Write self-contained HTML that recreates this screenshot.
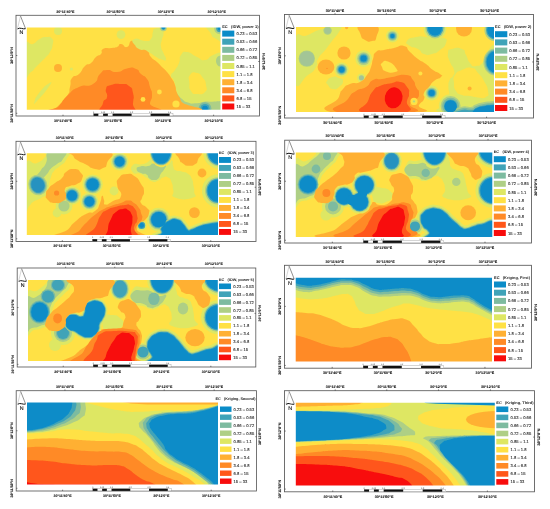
<!DOCTYPE html><html><head><meta charset="utf-8"><title>EC interpolation maps</title><style>html,body{margin:0;padding:0;background:#fff}svg{display:block}text{text-rendering:geometricPrecision}.tk{font:bold 3.6px "Liberation Sans",sans-serif;fill:#111;stroke:#111;stroke-width:.08px}</style></head><body><svg width="550" height="509" viewBox="0 0 550 509"><defs><filter id="bl" x="-5%" y="-5%" width="110%" height="110%"><feGaussianBlur stdDeviation="0.45"/></filter></defs><rect width="550" height="509" fill="#fff"/><clipPath id="cm0"><rect x="26.8" y="27.5" width="193.7" height="82.3"/></clipPath><g clip-path="url(#cm0)"><g filter="url(#bl)"><rect x="22.8" y="23.5" width="201.7" height="90.3" fill="#FFE144"/><path d="M25.0 46.0C27.7 36.0 28.3 46.2 33.0 44.0C37.7 41.8 34.7 41.7 39.0 39.4C43.3 37.1 41.7 37.3 46.0 37.0C50.3 36.7 49.8 35.9 52.0 38.6C54.2 41.3 53.3 40.5 52.6 45.0C51.9 49.5 52.2 48.0 50.0 52.0C47.8 56.0 49.0 53.7 46.0 57.0C43.0 60.3 44.3 58.7 41.0 62.0C37.7 65.3 39.3 63.7 36.0 67.0C32.7 70.3 34.7 69.7 31.0 72.0C27.3 74.3 27.0 82.7 25.0 74.0C23.0 65.3 22.3 56.0 25.0 46.0Z" fill="#DEE763"/><ellipse cx="58.0" cy="31.0" rx="4.0" ry="4.0" fill="#DEE763"/><ellipse cx="121.0" cy="34.6" rx="4.4" ry="4.4" fill="#DEE763"/><path d="M48.0 84.0C51.5 81.7 53.1 80.3 49.4 86.0C45.7 91.7 41.9 95.9 37.0 101.0C32.1 106.1 33.9 104.1 34.6 101.4C35.3 98.7 34.5 98.8 39.0 93.0C43.5 87.2 44.5 86.3 48.0 84.0Z" fill="#DEE763"/><ellipse cx="71.4" cy="69.0" rx="1.6" ry="1.6" fill="#DEE763"/><path d="M134.1 39.2C137.9 37.1 139.8 41.1 145.5 40.9C151.2 40.6 148.8 41.4 151.2 38.4C153.7 35.4 151.5 35.2 152.9 31.9C154.2 28.6 152.3 29.6 155.3 28.6C158.3 27.7 159.1 27.3 161.8 29.0C164.6 30.6 163.5 29.8 163.5 33.5C163.5 37.2 162.7 35.7 161.8 40.1C161.0 44.4 160.5 42.2 161.0 46.6C161.6 50.9 161.8 48.8 163.5 53.1C165.1 57.5 166.5 57.5 165.9 59.6C165.4 61.8 165.4 60.7 161.8 59.6C158.3 58.5 160.2 59.1 155.3 56.4C150.4 53.6 154.2 54.5 147.2 51.5C140.1 48.5 138.5 51.5 134.1 47.4C129.8 43.3 130.3 41.4 134.1 39.2Z" fill="#DEE763"/><path d="M181.0 55.0C183.7 51.3 181.7 51.3 187.0 52.0C192.3 52.7 191.0 54.3 197.0 57.0C203.0 59.7 199.7 60.7 205.0 60.0C210.3 59.3 207.0 57.7 213.0 55.0C219.0 52.3 217.7 53.0 223.0 52.0C228.3 51.0 227.0 31.7 229.0 52.0C231.0 72.3 244.3 92.7 229.0 113.0C213.7 133.3 199.0 117.0 183.0 113.0C167.0 109.0 183.0 107.7 181.0 101.0C179.0 94.3 179.3 99.7 177.0 93.0C174.7 86.3 176.0 86.7 174.0 81.0C172.0 75.3 170.7 79.7 171.0 76.0C171.3 72.3 172.3 74.3 175.0 70.0C177.7 65.7 177.0 68.0 179.0 63.0C181.0 58.0 178.3 58.7 181.0 55.0Z" fill="#DEE763"/><path d="M207.5 23.7C202.6 27.0 208.1 28.6 210.8 33.5C213.5 38.4 210.8 36.0 215.7 38.4C220.6 40.9 222.2 45.8 225.5 40.9C228.7 36.0 231.4 29.4 225.5 23.7C219.5 18.0 212.4 20.5 207.5 23.7Z" fill="#DEE763"/><ellipse cx="219.8" cy="28.6" rx="7.6" ry="7.6" fill="#DEE763"/><path d="M190.0 75.0C192.5 71.7 192.7 72.0 197.0 73.0C201.3 74.0 200.0 74.0 203.0 78.0C206.0 82.0 205.3 80.3 206.0 85.0C206.7 89.7 208.0 89.0 205.0 92.0C202.0 95.0 201.7 94.3 197.0 94.0C192.3 93.7 193.5 94.7 191.0 91.0C188.5 87.3 189.7 88.3 189.4 83.0C189.1 77.7 187.5 78.3 190.0 75.0Z" fill="#FFE144"/><ellipse cx="220.4" cy="61.0" rx="4.4" ry="5.6" fill="#AECF85"/><path d="M175.7 92.3C176.2 90.5 177.3 95.0 181.4 98.5C185.5 101.9 183.0 100.9 187.9 102.5C192.8 104.2 190.7 103.6 196.1 103.3C201.5 103.1 198.8 102.3 204.3 101.7C209.7 101.2 205.9 102.0 212.4 101.7C218.9 101.4 217.8 101.1 223.8 100.7C229.8 100.4 228.2 96.0 230.4 100.7C232.5 105.5 246.1 110.3 230.4 115.1C214.6 119.9 199.9 118.9 183.0 115.1C166.2 111.3 182.2 111.3 179.8 103.7C177.3 96.1 175.2 94.0 175.7 92.3Z" fill="#AECF85"/><ellipse cx="205.0" cy="108.6" rx="6.4" ry="6.4" fill="#7DBBA0"/><ellipse cx="205.0" cy="108.6" rx="4.6" ry="4.6" fill="#3FA3B8"/><ellipse cx="163.4" cy="27.6" rx="3.6" ry="3.6" fill="#AECF85"/><ellipse cx="163.4" cy="27.6" rx="2.4" ry="2.4" fill="#3FA3B8"/><ellipse cx="219.8" cy="28.6" rx="5.6" ry="5.6" fill="#AECF85"/><ellipse cx="219.8" cy="28.6" rx="3.6" ry="3.6" fill="#3FA3B8"/><ellipse cx="58.0" cy="68.0" rx="4.0" ry="4.0" fill="#FFB033"/><path d="M50.0 113.0C8.0 111.0 51.3 112.7 57.0 107.0C62.7 101.3 62.7 102.7 67.0 96.0C71.3 89.3 68.3 93.0 70.0 87.0C71.7 81.0 69.0 82.3 72.0 78.0C75.0 73.7 74.7 78.0 79.0 74.0C83.3 70.0 81.0 69.7 85.0 66.0C89.0 62.3 87.3 66.0 91.0 63.0C94.7 60.0 92.7 60.0 96.0 57.0C99.3 54.0 98.7 56.7 101.0 54.0C103.3 51.3 99.7 51.0 103.0 49.0C106.3 47.0 106.3 48.7 111.0 48.0C115.7 47.3 113.7 48.3 117.0 47.0C120.3 45.7 117.7 44.0 121.0 44.0C124.3 44.0 123.7 48.0 127.0 47.0C130.3 46.0 128.7 42.0 131.0 41.0C133.3 40.0 131.3 41.3 134.0 44.0C136.7 46.7 134.7 46.7 139.0 49.0C143.3 51.3 143.0 48.3 147.0 51.0C151.0 53.7 147.7 53.3 151.0 57.0C154.3 60.7 153.3 58.7 157.0 62.0C160.7 65.3 158.7 63.7 162.0 67.0C165.3 70.3 163.7 68.0 167.0 72.0C170.3 76.0 169.3 74.7 172.0 79.0C174.7 83.3 173.3 80.3 175.0 85.0C176.7 89.7 175.0 87.7 177.0 93.0C179.0 98.3 179.0 94.3 181.0 101.0C183.0 107.7 226.7 109.0 183.0 113.0C139.3 117.0 92.0 115.0 50.0 113.0Z" fill="#FFB033"/><path d="M53.0 113.0C23.7 110.7 54.0 112.0 59.0 106.0C64.0 100.0 61.3 101.3 68.0 95.0C74.7 88.7 70.7 90.7 79.0 87.0C87.3 83.3 86.0 88.3 93.0 84.0C100.0 79.7 95.3 78.7 100.0 74.0C104.7 69.3 101.3 70.7 107.0 70.0C112.7 69.3 110.3 72.5 117.0 72.0C123.7 71.5 120.7 69.4 127.0 68.4C133.3 67.4 131.3 67.1 136.0 69.0C140.7 70.9 137.3 70.7 141.0 74.0C144.7 77.3 144.0 74.7 147.0 79.0C150.0 83.3 148.3 81.7 150.0 87.0C151.7 92.3 152.0 89.7 152.0 95.0C152.0 100.3 151.7 97.0 150.0 103.0C148.3 109.0 179.3 109.7 147.0 113.0C114.7 116.3 82.3 115.3 53.0 113.0Z" fill="#FF8A26"/><path d="M104.0 113.0C94.7 109.7 102.0 108.3 103.0 103.0C104.0 97.7 106.0 101.7 107.0 97.0C108.0 92.3 104.7 93.0 106.0 89.0C107.3 85.0 106.0 86.7 111.0 85.0C116.0 83.3 115.0 83.7 121.0 84.0C127.0 84.3 125.0 83.0 129.0 86.0C133.0 89.0 131.7 87.3 133.0 93.0C134.3 98.7 133.7 96.3 133.0 103.0C132.3 109.7 140.7 109.7 131.0 113.0C121.3 116.3 113.3 116.3 104.0 113.0Z" fill="#FF571A"/><ellipse cx="159.4" cy="92.0" rx="2.4" ry="2.4" fill="#FFE144"/><ellipse cx="143.0" cy="99.4" rx="2.4" ry="2.4" fill="#FFE144"/><ellipse cx="176.0" cy="104.0" rx="3.6" ry="3.6" fill="#FFE144"/><ellipse cx="205.0" cy="108.6" rx="2.8" ry="2.8" fill="#0A8CC8"/><ellipse cx="163.4" cy="27.6" rx="1.6" ry="1.6" fill="#0A8CC8"/><ellipse cx="219.8" cy="28.6" rx="2.0" ry="2.0" fill="#0A8CC8"/></g></g><g transform="translate(16.00 15.30) scale(1.0000 1.0000)"><rect x="0" y="0" width="243.5" height="100.7" fill="none" stroke="#5a5a5a" stroke-width="0.85"/><path d="M49.4 0V-1.3" stroke="#333" stroke-width="0.6"/><text class="tk" x="49.4" y="-2.7" text-anchor="middle">30°11'40"E</text><path d="M99.6 0V-1.3" stroke="#333" stroke-width="0.6"/><text class="tk" x="99.6" y="-2.7" text-anchor="middle">30°11'50"E</text><path d="M150.0 0V-1.3" stroke="#333" stroke-width="0.6"/><text class="tk" x="150.0" y="-2.7" text-anchor="middle">30°12'0"E</text><path d="M200.6 0V-1.3" stroke="#333" stroke-width="0.6"/><text class="tk" x="200.6" y="-2.7" text-anchor="middle">30°12'10"E</text><path d="M47.0 100.7V99.4" stroke="#333" stroke-width="0.6"/><text class="tk" x="47.0" y="106.5" text-anchor="middle">30°11'40"E</text><path d="M97.0 100.7V99.4" stroke="#333" stroke-width="0.6"/><text class="tk" x="97.0" y="106.5" text-anchor="middle">30°11'50"E</text><path d="M147.0 100.7V99.4" stroke="#333" stroke-width="0.6"/><text class="tk" x="147.0" y="106.5" text-anchor="middle">30°12'0"E</text><path d="M197.6 100.7V99.4" stroke="#333" stroke-width="0.6"/><text class="tk" x="197.6" y="106.5" text-anchor="middle">30°12'10"E</text><path d="M0 40.2H1.3" stroke="#333" stroke-width="0.6"/><text class="tk" transform="translate(-3.5 40.2) rotate(-90)" text-anchor="middle">30°12'0"N</text><path d="M0 98.0H1.3" stroke="#333" stroke-width="0.6"/><text class="tk" transform="translate(-3.5 98.0) rotate(-90)" text-anchor="middle">30°11'50"N</text><path d="M243.5 46.2H242.2" stroke="#333" stroke-width="0.6"/><text class="tk" transform="translate(248.5 46.2) rotate(-90)" text-anchor="middle">30°12'0"N</text><path d="M4.5 0.7L9.5 13.2" stroke="#222" stroke-width="0.5" fill="none"/><path d="M4.5 0.7L1.5 13.2" stroke="#999" stroke-width="0.4" fill="none"/><path d="M1.5 13.6Q3.5 12.4 5.5 13.1T9.5 13.4" stroke="#111" stroke-width="1" fill="none"/><text x="5.5" y="18.9" text-anchor="middle" style="font:5.4px 'Liberation Sans',sans-serif;fill:#111;stroke:#111;stroke-width:.12px">N</text><rect x="77.6" y="98.4" width="79.4" height="2.2" fill="#fff" stroke="#777" stroke-width="0.3"/><rect x="77.60" y="98.4" width="4.75" height="2.2" fill="#111"/><rect x="87.10" y="98.4" width="4.75" height="2.2" fill="#111"/><rect x="96.60" y="98.4" width="19.00" height="2.2" fill="#111"/><rect x="134.60" y="98.4" width="19.00" height="2.2" fill="#111"/><text x="77.6" y="97.6" text-anchor="middle" style="font:2.2px 'Liberation Sans',sans-serif;fill:#444">0</text><text x="87.1" y="97.6" text-anchor="middle" style="font:2.2px 'Liberation Sans',sans-serif;fill:#444">0.05</text><text x="96.6" y="97.6" text-anchor="middle" style="font:2.2px 'Liberation Sans',sans-serif;fill:#444">0.1</text><text x="115.6" y="97.6" text-anchor="middle" style="font:2.2px 'Liberation Sans',sans-serif;fill:#444">0.2</text><text x="134.6" y="97.6" text-anchor="middle" style="font:2.2px 'Liberation Sans',sans-serif;fill:#444">0.3</text><text x="153.6" y="97.6" text-anchor="middle" style="font:2.2px 'Liberation Sans',sans-serif;fill:#444">0.4</text></g><text x="222.2" y="28.0" textLength="36.4" lengthAdjust="spacingAndGlyphs" style="font:bold 3.90px 'Liberation Sans',sans-serif;fill:#222" xml:space="preserve">EC   (IDW, power 1)</text><rect x="222.2" y="30.6" width="12.1" height="6.0" fill="#0A8CC8"/><text x="236.5" y="35.1" style="font:4.15px 'Liberation Sans',sans-serif;fill:#2a2a2a;stroke:#2a2a2a;stroke-width:.1px">0.23 – 0.53</text><rect x="222.2" y="38.7" width="12.1" height="6.0" fill="#3FA3B8"/><text x="236.5" y="43.2" style="font:4.15px 'Liberation Sans',sans-serif;fill:#2a2a2a;stroke:#2a2a2a;stroke-width:.1px">0.53 – 0.66</text><rect x="222.2" y="46.8" width="12.1" height="6.0" fill="#7DBBA0"/><text x="236.5" y="51.3" style="font:4.15px 'Liberation Sans',sans-serif;fill:#2a2a2a;stroke:#2a2a2a;stroke-width:.1px">0.66 – 0.72</text><rect x="222.2" y="54.9" width="12.1" height="6.0" fill="#AECF85"/><text x="236.5" y="59.4" style="font:4.15px 'Liberation Sans',sans-serif;fill:#2a2a2a;stroke:#2a2a2a;stroke-width:.1px">0.72 – 0.85</text><rect x="222.2" y="63.0" width="12.1" height="6.0" fill="#DEE763"/><text x="236.5" y="67.5" style="font:4.15px 'Liberation Sans',sans-serif;fill:#2a2a2a;stroke:#2a2a2a;stroke-width:.1px">0.85 – 1.1</text><rect x="222.2" y="71.1" width="12.1" height="6.0" fill="#FFE144"/><text x="236.5" y="75.6" style="font:4.15px 'Liberation Sans',sans-serif;fill:#2a2a2a;stroke:#2a2a2a;stroke-width:.1px">1.1 – 1.8</text><rect x="222.2" y="79.2" width="12.1" height="6.0" fill="#FFB033"/><text x="236.5" y="83.7" style="font:4.15px 'Liberation Sans',sans-serif;fill:#2a2a2a;stroke:#2a2a2a;stroke-width:.1px">1.8 – 3.4</text><rect x="222.2" y="87.3" width="12.1" height="6.0" fill="#FF8A26"/><text x="236.5" y="91.8" style="font:4.15px 'Liberation Sans',sans-serif;fill:#2a2a2a;stroke:#2a2a2a;stroke-width:.1px">3.4 – 6.8</text><rect x="222.2" y="95.4" width="12.1" height="6.0" fill="#FF571A"/><text x="236.5" y="99.9" style="font:4.15px 'Liberation Sans',sans-serif;fill:#2a2a2a;stroke:#2a2a2a;stroke-width:.1px">6.8 – 15</text><rect x="222.2" y="103.5" width="12.1" height="6.0" fill="#F80C0C"/><text x="236.5" y="108.0" style="font:4.15px 'Liberation Sans',sans-serif;fill:#2a2a2a;stroke:#2a2a2a;stroke-width:.1px">15 – 33</text><clipPath id="cm1"><rect x="296.0" y="27.0" width="198.0" height="85.0"/></clipPath><g clip-path="url(#cm1)"><g filter="url(#bl)"><rect x="292.0" y="23.0" width="206.0" height="93.0" fill="#FFE144"/><path d="M294.0 42.0C298.7 26.3 298.7 39.3 308.0 35.0C317.3 30.7 312.7 32.0 322.0 29.0C331.3 26.0 329.7 27.0 336.0 26.0C342.3 25.0 340.0 24.0 341.0 26.0C342.0 28.0 342.0 27.0 339.0 32.0C336.0 37.0 336.3 35.3 332.0 41.0C327.7 46.7 330.7 43.0 326.0 49.0C321.3 55.0 321.3 53.0 318.0 59.0C314.7 65.0 319.3 61.7 316.0 67.0C312.7 72.3 315.3 70.0 308.0 75.0C300.7 80.0 298.7 93.0 294.0 82.0C289.3 71.0 289.3 57.7 294.0 42.0Z" fill="#DEE763"/><path d="M328.0 85.0C326.0 82.3 325.3 83.7 327.0 81.0C328.7 78.3 329.0 78.0 333.0 77.0C337.0 76.0 335.7 76.7 339.0 78.0C342.3 79.3 343.0 78.0 343.0 81.0C343.0 84.0 342.3 84.3 339.0 87.0C335.7 89.7 336.7 89.7 333.0 89.0C329.3 88.3 330.0 87.7 328.0 85.0Z" fill="#DEE763"/><ellipse cx="341.6" cy="69.6" rx="7.2" ry="7.2" fill="#DEE763"/><ellipse cx="363.6" cy="58.6" rx="8.4" ry="8.4" fill="#DEE763"/><ellipse cx="392.4" cy="36.0" rx="6.4" ry="6.4" fill="#DEE763"/><ellipse cx="361.4" cy="77.8" rx="4.4" ry="4.4" fill="#DEE763"/><path d="M407.0 41.0C409.0 38.0 409.7 38.3 416.0 37.0C422.3 35.7 419.3 36.3 426.0 37.0C432.7 37.7 430.0 38.7 436.0 39.0C442.0 39.3 440.7 36.7 444.0 38.0C447.3 39.3 447.3 39.0 446.0 43.0C444.7 47.0 444.7 46.3 440.0 50.0C435.3 53.7 437.3 52.7 432.0 54.0C426.7 55.3 428.7 55.7 424.0 54.0C419.3 52.3 422.7 51.7 418.0 49.0C413.3 46.3 413.7 48.7 410.0 46.0C406.3 43.3 405.0 44.0 407.0 41.0Z" fill="#DEE763"/><ellipse cx="435.0" cy="28.0" rx="11.4" ry="12.0" fill="#DEE763"/><path d="M448.0 53.0C448.7 48.7 447.3 50.3 452.0 49.0C456.7 47.7 457.3 47.0 462.0 49.0C466.7 51.0 463.3 50.3 466.0 55.0C468.7 59.7 466.7 59.3 470.0 63.0C473.3 66.7 471.3 66.7 476.0 66.0C480.7 65.3 480.0 66.0 484.0 61.0C488.0 56.0 484.3 56.7 488.0 51.0C491.7 45.3 491.0 46.3 495.0 44.0C499.0 41.7 498.3 21.0 500.0 44.0C501.7 67.0 518.7 90.0 500.0 113.0C481.3 136.0 462.0 116.3 444.0 113.0C426.0 109.7 444.3 109.0 446.0 103.0C447.7 97.0 448.2 100.3 449.0 95.0C449.8 89.7 448.2 92.0 448.4 87.0C448.6 82.0 448.1 83.7 449.6 80.0C451.1 76.3 451.5 79.3 453.0 76.0C454.5 72.7 455.0 74.7 454.0 70.0C453.0 65.3 452.0 67.7 450.0 62.0C448.0 56.3 447.3 57.3 448.0 53.0Z" fill="#DEE763"/><ellipse cx="450.6" cy="106.1" rx="11.8" ry="11.8" fill="#DEE763"/><path d="M457.3 115.8C443.9 113.9 456.8 112.0 461.8 110.1C466.7 108.2 467.2 111.0 472.2 110.1C477.2 109.3 472.7 109.1 476.7 107.6C480.7 106.1 479.2 106.6 484.1 105.6C489.1 104.6 485.6 105.1 491.6 104.6C497.6 104.1 498.6 100.4 502.1 104.1C505.5 107.9 517.0 111.9 502.1 115.8C487.1 119.7 470.7 117.7 457.3 115.8Z" fill="#DEE763" stroke="#DEE763" stroke-width="10.1" stroke-linejoin="round"/><ellipse cx="431.6" cy="93.0" rx="7.4" ry="7.4" fill="#DEE763"/><ellipse cx="306.8" cy="58.6" rx="8.2" ry="8.2" fill="#AECF85"/><ellipse cx="306.8" cy="58.6" rx="7.4" ry="7.4" fill="#A3C596"/><ellipse cx="327.6" cy="30.6" rx="4.2" ry="4.2" fill="#AECF85"/><ellipse cx="327.6" cy="30.6" rx="3.2" ry="3.2" fill="#A3C596"/><ellipse cx="341.6" cy="69.6" rx="5.6" ry="5.6" fill="#AECF85"/><ellipse cx="341.6" cy="69.6" rx="4.6" ry="4.6" fill="#7DBBA0"/><ellipse cx="341.6" cy="69.6" rx="3.6" ry="3.6" fill="#3FA3B8"/><ellipse cx="363.6" cy="58.6" rx="6.4" ry="6.4" fill="#AECF85"/><ellipse cx="363.6" cy="58.6" rx="5.0" ry="5.0" fill="#7DBBA0"/><ellipse cx="363.6" cy="58.6" rx="4.0" ry="4.0" fill="#3FA3B8"/><ellipse cx="392.4" cy="36.0" rx="4.8" ry="4.8" fill="#AECF85"/><ellipse cx="392.4" cy="36.0" rx="3.8" ry="3.8" fill="#7DBBA0"/><ellipse cx="392.4" cy="36.0" rx="2.8" ry="2.8" fill="#3FA3B8"/><ellipse cx="361.4" cy="77.8" rx="2.6" ry="2.6" fill="#A3C596"/><ellipse cx="435.0" cy="28.0" rx="9.8" ry="10.4" fill="#AECF85"/><ellipse cx="435.0" cy="28.0" rx="8.4" ry="9.0" fill="#3FA3B8"/><path d="M455.0 75.0C457.7 70.7 456.3 72.3 462.0 70.0C467.7 67.7 466.7 67.0 472.0 68.0C477.3 69.0 474.0 68.7 478.0 73.0C482.0 77.3 480.7 75.0 484.0 81.0C487.3 87.0 487.3 85.7 488.0 91.0C488.7 96.3 489.3 94.9 486.0 97.0C482.7 99.1 483.3 97.7 478.0 97.4C472.7 97.1 475.3 96.8 470.0 96.0C464.7 95.2 466.7 96.7 462.0 95.0C457.3 93.3 458.7 95.0 456.0 91.0C453.3 87.0 454.3 88.3 454.0 83.0C453.7 77.7 452.3 79.3 455.0 75.0Z" fill="#FFE144"/><ellipse cx="495.0" cy="62.0" rx="11.6" ry="13.6" fill="#AECF85"/><ellipse cx="495.0" cy="62.0" rx="10.4" ry="12.4" fill="#7DBBA0"/><ellipse cx="495.0" cy="62.0" rx="9.4" ry="11.4" fill="#3FA3B8"/><ellipse cx="495.6" cy="30.0" rx="11.2" ry="11.2" fill="#AECF85"/><ellipse cx="495.6" cy="30.0" rx="9.6" ry="9.6" fill="#3FA3B8"/><ellipse cx="450.6" cy="106.1" rx="10.0" ry="10.0" fill="#AECF85"/><ellipse cx="450.6" cy="106.1" rx="8.4" ry="8.4" fill="#7DBBA0"/><ellipse cx="450.6" cy="106.1" rx="6.7" ry="6.7" fill="#3FA3B8"/><path d="M457.3 115.8C443.9 113.9 456.8 112.0 461.8 110.1C466.7 108.2 467.2 111.0 472.2 110.1C477.2 109.3 472.7 109.1 476.7 107.6C480.7 106.1 479.2 106.6 484.1 105.6C489.1 104.6 485.6 105.1 491.6 104.6C497.6 104.1 498.6 100.4 502.1 104.1C505.5 107.9 517.0 111.9 502.1 115.8C487.1 119.7 470.7 117.7 457.3 115.8Z" fill="#AECF85" stroke="#AECF85" stroke-width="6.6" stroke-linejoin="round"/><path d="M457.3 115.8C443.9 113.9 456.8 112.0 461.8 110.1C466.7 108.2 467.2 111.0 472.2 110.1C477.2 109.3 472.7 109.1 476.7 107.6C480.7 106.1 479.2 106.6 484.1 105.6C489.1 104.6 485.6 105.1 491.6 104.6C497.6 104.1 498.6 100.4 502.1 104.1C505.5 107.9 517.0 111.9 502.1 115.8C487.1 119.7 470.7 117.7 457.3 115.8Z" fill="#7DBBA0" stroke="#7DBBA0" stroke-width="3.3" stroke-linejoin="round"/><path d="M457.3 115.8C443.9 113.9 456.8 112.0 461.8 110.1C466.7 108.2 467.2 111.0 472.2 110.1C477.2 109.3 472.7 109.1 476.7 107.6C480.7 106.1 479.2 106.6 484.1 105.6C489.1 104.6 485.6 105.1 491.6 104.6C497.6 104.1 498.6 100.4 502.1 104.1C505.5 107.9 517.0 111.9 502.1 115.8C487.1 119.7 470.7 117.7 457.3 115.8Z" fill="#3FA3B8"/><ellipse cx="431.6" cy="93.0" rx="5.6" ry="5.6" fill="#AECF85"/><ellipse cx="431.6" cy="93.0" rx="4.6" ry="4.6" fill="#7DBBA0"/><ellipse cx="431.6" cy="93.0" rx="3.8" ry="3.8" fill="#3FA3B8"/><ellipse cx="326.0" cy="67.0" rx="8.4" ry="7.6" fill="#FFB033"/><ellipse cx="327.0" cy="68.4" rx="0.6" ry="0.6" fill="#FF8A26"/><ellipse cx="344.0" cy="53.0" rx="6.6" ry="6.6" fill="#FFB033"/><path d="M360.0 25.0C365.2 22.0 370.5 21.0 376.0 25.0C381.5 29.0 377.7 31.7 376.4 37.0C375.1 42.3 375.8 40.0 372.0 41.0C368.2 42.0 368.9 42.3 365.0 40.0C361.1 37.7 362.1 39.0 360.4 34.0C358.7 29.0 354.8 28.0 360.0 25.0Z" fill="#FFB033"/><ellipse cx="346.6" cy="27.6" rx="1.6" ry="1.6" fill="#FFB033"/><ellipse cx="464.0" cy="28.6" rx="8.0" ry="8.0" fill="#FFB033"/><ellipse cx="469.6" cy="88.6" rx="2.0" ry="2.0" fill="#FFB033"/><path d="M335.0 113.0C310.0 107.7 336.3 105.0 339.0 97.0C341.7 89.0 339.3 93.3 343.0 89.0C346.7 84.7 344.3 86.3 350.0 84.0C355.7 81.7 354.3 85.0 360.0 82.0C365.7 79.0 363.3 80.0 367.0 75.0C370.7 70.0 369.0 72.3 371.0 67.0C373.0 61.7 371.3 64.0 373.0 59.0C374.7 54.0 372.3 55.0 376.0 52.0C379.7 49.0 378.0 51.3 384.0 50.0C390.0 48.7 387.3 49.3 394.0 48.0C400.7 46.7 398.7 44.7 404.0 46.0C409.3 47.3 405.3 47.7 410.0 52.0C414.7 56.3 412.7 55.0 418.0 59.0C423.3 63.0 421.0 60.3 426.0 64.0C431.0 67.7 428.3 66.7 433.0 70.0C437.7 73.3 437.3 71.7 440.0 74.0C442.7 76.3 443.0 74.7 441.0 77.0C439.0 79.3 438.0 77.7 434.0 81.0C430.0 84.3 432.3 83.0 429.0 87.0C425.7 91.0 425.7 89.0 424.0 93.0C422.3 97.0 425.7 95.0 424.0 99.0C422.3 103.0 422.3 100.3 419.0 105.0C415.7 109.7 442.0 110.3 414.0 113.0C386.0 115.7 360.0 118.3 335.0 113.0Z" fill="#FFB033"/><path d="M382.0 63.0C384.0 61.1 383.3 59.7 388.0 61.4C392.7 63.1 393.7 64.5 396.0 68.0C398.3 71.5 398.3 70.9 395.0 72.0C391.7 73.1 390.3 73.1 386.0 71.4C381.7 69.7 383.3 69.8 382.0 67.0C380.7 64.2 380.0 64.9 382.0 63.0Z" fill="#FFE144"/><ellipse cx="420.4" cy="73.4" rx="2.0" ry="2.0" fill="#FFE144"/><path d="M341.0 113.0C321.0 108.3 343.0 106.3 348.0 99.0C353.0 91.7 350.0 95.0 356.0 91.0C362.0 87.0 360.3 90.7 366.0 87.0C371.7 83.3 367.7 82.7 373.0 80.0C378.3 77.3 375.7 80.0 382.0 79.0C388.3 78.0 384.0 78.3 392.0 77.0C400.0 75.7 399.0 74.0 406.0 75.0C413.0 76.0 409.7 76.0 413.0 80.0C416.3 84.0 414.0 82.7 416.0 87.0C418.0 91.3 419.0 88.7 419.0 93.0C419.0 97.3 419.0 96.3 416.0 100.0C413.0 103.7 412.7 99.7 410.0 104.0C407.3 108.3 431.0 110.0 408.0 113.0C385.0 116.0 361.0 117.7 341.0 113.0Z" fill="#FF8A26"/><path d="M364.0 113.0C352.0 109.0 365.0 108.3 368.0 101.0C371.0 93.7 369.0 96.0 373.0 91.0C377.0 86.0 374.3 88.5 380.0 86.0C385.7 83.5 383.3 84.9 390.0 83.6C396.7 82.3 394.3 80.9 400.0 82.0C405.7 83.1 404.0 83.0 407.0 87.0C410.0 91.0 409.0 89.3 409.0 94.0C409.0 98.7 408.7 94.7 407.0 101.0C405.3 107.3 418.3 109.0 404.0 113.0C389.7 117.0 376.0 117.0 364.0 113.0Z" fill="#FF571A"/><ellipse cx="393.6" cy="97.8" rx="8.8" ry="10.6" fill="#F80C0C" transform="rotate(12 393.6 97.8)"/><ellipse cx="414.0" cy="101.4" rx="3.6" ry="3.6" fill="#FFE144"/><ellipse cx="414.0" cy="101.4" rx="1.6" ry="1.6" fill="#DEE763"/><ellipse cx="414.0" cy="101.4" rx="0.8" ry="0.8" fill="#AECF85"/><ellipse cx="341.6" cy="69.6" rx="2.8" ry="2.8" fill="#0A8CC8"/><ellipse cx="363.6" cy="58.6" rx="3.0" ry="3.0" fill="#0A8CC8"/><ellipse cx="392.4" cy="36.0" rx="2.0" ry="2.0" fill="#0A8CC8"/><ellipse cx="435.0" cy="28.0" rx="7.0" ry="7.6" fill="#0A8CC8"/><ellipse cx="495.0" cy="62.0" rx="8.4" ry="10.4" fill="#0A8CC8"/><ellipse cx="495.6" cy="30.0" rx="8.4" ry="8.4" fill="#0A8CC8"/><ellipse cx="450.6" cy="106.4" rx="6.1" ry="6.1" fill="#0A8CC8"/><path d="M470.7 115.8C461.0 114.4 471.0 114.1 473.0 111.6C474.9 109.1 473.0 110.0 476.7 108.2C480.4 106.4 479.2 107.2 484.1 106.2C489.1 105.2 485.6 105.7 491.6 105.2C497.6 104.7 498.6 101.2 502.1 104.7C505.5 108.3 512.5 112.1 502.1 115.8C491.6 119.5 480.4 117.2 470.7 115.8Z" fill="#0A8CC8"/><ellipse cx="431.6" cy="93.0" rx="3.0" ry="3.0" fill="#0A8CC8"/></g></g><g transform="translate(284.50 14.50) scale(1.0226 1.0278)"><rect x="0" y="0" width="243.5" height="100.7" fill="none" stroke="#5a5a5a" stroke-width="0.85"/><path d="M49.4 0V-1.3" stroke="#333" stroke-width="0.6"/><text class="tk" x="49.4" y="-2.7" text-anchor="middle">30°11'40"E</text><path d="M99.6 0V-1.3" stroke="#333" stroke-width="0.6"/><text class="tk" x="99.6" y="-2.7" text-anchor="middle">30°11'50"E</text><path d="M150.0 0V-1.3" stroke="#333" stroke-width="0.6"/><text class="tk" x="150.0" y="-2.7" text-anchor="middle">30°12'0"E</text><path d="M200.6 0V-1.3" stroke="#333" stroke-width="0.6"/><text class="tk" x="200.6" y="-2.7" text-anchor="middle">30°12'10"E</text><path d="M47.0 100.7V99.4" stroke="#333" stroke-width="0.6"/><text class="tk" x="47.0" y="106.5" text-anchor="middle">30°11'40"E</text><path d="M97.0 100.7V99.4" stroke="#333" stroke-width="0.6"/><text class="tk" x="97.0" y="106.5" text-anchor="middle">30°11'50"E</text><path d="M147.0 100.7V99.4" stroke="#333" stroke-width="0.6"/><text class="tk" x="147.0" y="106.5" text-anchor="middle">30°12'0"E</text><path d="M197.6 100.7V99.4" stroke="#333" stroke-width="0.6"/><text class="tk" x="197.6" y="106.5" text-anchor="middle">30°12'10"E</text><path d="M0 40.2H1.3" stroke="#333" stroke-width="0.6"/><text class="tk" transform="translate(-3.5 40.2) rotate(-90)" text-anchor="middle">30°12'0"N</text><path d="M0 98.0H1.3" stroke="#333" stroke-width="0.6"/><text class="tk" transform="translate(-3.5 98.0) rotate(-90)" text-anchor="middle">30°11'50"N</text><path d="M243.5 46.2H242.2" stroke="#333" stroke-width="0.6"/><text class="tk" transform="translate(248.5 46.2) rotate(-90)" text-anchor="middle">30°12'0"N</text><path d="M4.5 0.7L9.5 13.2" stroke="#222" stroke-width="0.5" fill="none"/><path d="M4.5 0.7L1.5 13.2" stroke="#999" stroke-width="0.4" fill="none"/><path d="M1.5 13.6Q3.5 12.4 5.5 13.1T9.5 13.4" stroke="#111" stroke-width="1" fill="none"/><text x="5.5" y="18.9" text-anchor="middle" style="font:5.4px 'Liberation Sans',sans-serif;fill:#111;stroke:#111;stroke-width:.12px">N</text><rect x="77.6" y="98.4" width="79.4" height="2.2" fill="#fff" stroke="#777" stroke-width="0.3"/><rect x="77.60" y="98.4" width="4.75" height="2.2" fill="#111"/><rect x="87.10" y="98.4" width="4.75" height="2.2" fill="#111"/><rect x="96.60" y="98.4" width="19.00" height="2.2" fill="#111"/><rect x="134.60" y="98.4" width="19.00" height="2.2" fill="#111"/><text x="77.6" y="97.6" text-anchor="middle" style="font:2.2px 'Liberation Sans',sans-serif;fill:#444">0</text><text x="87.1" y="97.6" text-anchor="middle" style="font:2.2px 'Liberation Sans',sans-serif;fill:#444">0.05</text><text x="96.6" y="97.6" text-anchor="middle" style="font:2.2px 'Liberation Sans',sans-serif;fill:#444">0.1</text><text x="115.6" y="97.6" text-anchor="middle" style="font:2.2px 'Liberation Sans',sans-serif;fill:#444">0.2</text><text x="134.6" y="97.6" text-anchor="middle" style="font:2.2px 'Liberation Sans',sans-serif;fill:#444">0.3</text><text x="153.6" y="97.6" text-anchor="middle" style="font:2.2px 'Liberation Sans',sans-serif;fill:#444">0.4</text></g><text x="495.0" y="28.0" textLength="36.4" lengthAdjust="spacingAndGlyphs" style="font:bold 3.90px 'Liberation Sans',sans-serif;fill:#222" xml:space="preserve">EC   (IDW, power 2)</text><rect x="495.0" y="31.2" width="12.3" height="6.0" fill="#0A8CC8"/><text x="509.3" y="35.7" style="font:4.15px 'Liberation Sans',sans-serif;fill:#2a2a2a;stroke:#2a2a2a;stroke-width:.1px">0.23 – 0.53</text><rect x="495.0" y="39.4" width="12.3" height="6.0" fill="#3FA3B8"/><text x="509.3" y="43.9" style="font:4.15px 'Liberation Sans',sans-serif;fill:#2a2a2a;stroke:#2a2a2a;stroke-width:.1px">0.53 – 0.66</text><rect x="495.0" y="47.6" width="12.3" height="6.0" fill="#7DBBA0"/><text x="509.3" y="52.1" style="font:4.15px 'Liberation Sans',sans-serif;fill:#2a2a2a;stroke:#2a2a2a;stroke-width:.1px">0.66 – 0.72</text><rect x="495.0" y="55.8" width="12.3" height="6.0" fill="#AECF85"/><text x="509.3" y="60.3" style="font:4.15px 'Liberation Sans',sans-serif;fill:#2a2a2a;stroke:#2a2a2a;stroke-width:.1px">0.72 – 0.85</text><rect x="495.0" y="64.0" width="12.3" height="6.0" fill="#DEE763"/><text x="509.3" y="68.5" style="font:4.15px 'Liberation Sans',sans-serif;fill:#2a2a2a;stroke:#2a2a2a;stroke-width:.1px">0.85 – 1.1</text><rect x="495.0" y="72.2" width="12.3" height="6.0" fill="#FFE144"/><text x="509.3" y="76.7" style="font:4.15px 'Liberation Sans',sans-serif;fill:#2a2a2a;stroke:#2a2a2a;stroke-width:.1px">1.1 – 1.8</text><rect x="495.0" y="80.4" width="12.3" height="6.0" fill="#FFB033"/><text x="509.3" y="84.9" style="font:4.15px 'Liberation Sans',sans-serif;fill:#2a2a2a;stroke:#2a2a2a;stroke-width:.1px">1.8 – 3.4</text><rect x="495.0" y="88.6" width="12.3" height="6.0" fill="#FF8A26"/><text x="509.3" y="93.1" style="font:4.15px 'Liberation Sans',sans-serif;fill:#2a2a2a;stroke:#2a2a2a;stroke-width:.1px">3.4 – 6.8</text><rect x="495.0" y="96.8" width="12.3" height="6.0" fill="#FF571A"/><text x="509.3" y="101.3" style="font:4.15px 'Liberation Sans',sans-serif;fill:#2a2a2a;stroke:#2a2a2a;stroke-width:.1px">6.8 – 15</text><rect x="495.0" y="105.0" width="12.3" height="6.0" fill="#F80C0C"/><text x="509.3" y="109.5" style="font:4.15px 'Liberation Sans',sans-serif;fill:#2a2a2a;stroke:#2a2a2a;stroke-width:.1px">15 – 33</text><clipPath id="cm2"><rect x="26.8" y="153.3" width="191.2" height="81.7"/></clipPath><g clip-path="url(#cm2)"><g filter="url(#bl)"><rect x="22.8" y="149.3" width="199.2" height="89.7" fill="#FFE144"/><path d="M25.0 167.0C29.0 152.7 30.3 166.3 37.0 163.0C43.7 159.7 41.3 161.0 45.0 157.0C48.7 153.0 40.7 153.0 48.0 151.0C55.3 149.0 61.0 148.0 67.0 151.0C73.0 154.0 68.3 155.0 66.0 160.0C63.7 165.0 64.0 162.3 60.0 166.0C56.0 169.7 57.0 167.3 54.0 171.0C51.0 174.7 52.7 172.3 51.0 177.0C49.3 181.7 50.0 179.7 49.0 185.0C48.0 190.3 50.7 188.7 48.0 193.0C45.3 197.3 46.0 195.0 41.0 198.0C36.0 201.0 36.7 199.7 33.0 202.0C29.3 204.3 32.7 203.7 30.0 205.0C27.3 206.3 26.7 218.7 25.0 206.0C23.3 193.3 21.0 181.3 25.0 167.0Z" fill="#DEE763"/><ellipse cx="64.0" cy="206.0" rx="8.4" ry="8.4" fill="#DEE763"/><ellipse cx="57.0" cy="213.0" rx="4.4" ry="4.4" fill="#DEE763"/><ellipse cx="114.0" cy="191.0" rx="4.4" ry="4.4" fill="#DEE763"/><ellipse cx="72.0" cy="195.6" rx="9.2" ry="9.2" fill="#DEE763"/><ellipse cx="92.6" cy="184.6" rx="10.2" ry="10.2" fill="#DEE763"/><ellipse cx="89.4" cy="201.6" rx="9.0" ry="9.0" fill="#DEE763"/><ellipse cx="119.6" cy="161.6" rx="9.0" ry="9.0" fill="#DEE763"/><ellipse cx="141.6" cy="225.4" rx="5.2" ry="5.2" fill="#DEE763"/><path d="M133.0 164.9C136.0 162.2 137.0 165.2 142.0 164.2C146.9 163.2 144.7 163.7 147.9 162.0C151.2 160.2 149.7 158.2 151.7 159.0C153.7 159.7 150.7 161.7 153.9 164.2C157.1 166.7 156.6 166.2 161.4 166.4C166.1 166.7 164.6 166.9 168.1 164.9C171.6 163.0 170.1 160.0 171.8 160.5C173.6 161.0 172.1 163.2 173.3 166.4C174.6 169.7 172.6 168.4 175.6 170.2C178.5 171.9 178.0 170.4 182.3 171.7C186.5 172.9 185.0 171.4 188.2 173.9C191.5 176.4 190.2 175.1 192.0 179.1C193.7 183.1 192.7 181.6 193.5 185.8C194.2 190.1 194.5 187.8 194.2 191.8C194.0 195.8 198.9 195.8 192.7 197.8C186.5 199.8 182.0 200.3 175.6 197.8C169.1 195.3 174.6 195.3 173.3 190.3C172.1 185.3 173.6 187.1 171.8 182.9C170.1 178.6 171.1 179.4 168.1 177.6C165.1 175.9 166.1 176.6 162.9 177.6C159.6 178.6 161.9 179.4 158.4 180.6C154.9 181.9 156.4 182.4 152.4 181.4C148.4 180.4 150.4 180.1 146.4 177.6C142.5 175.1 145.0 175.6 140.5 173.9C136.0 172.2 135.5 175.4 133.0 172.4C130.5 169.4 130.0 167.7 133.0 164.9Z" fill="#DEE763"/><ellipse cx="218.0" cy="190.8" rx="16.0" ry="16.6" fill="#DEE763"/><ellipse cx="220.0" cy="153.0" rx="16.6" ry="16.0" fill="#DEE763"/><ellipse cx="158.7" cy="219.6" rx="11.8" ry="11.8" fill="#DEE763"/><path d="M162.4 227.1C164.9 223.2 164.9 223.1 169.9 220.7C174.8 218.3 173.1 218.9 177.3 219.9C181.5 220.9 179.1 220.2 182.5 223.7C186.0 227.1 184.8 228.3 187.8 230.4C190.7 232.5 187.5 231.2 191.5 229.9C195.5 228.7 194.5 228.4 199.7 226.6C204.9 224.9 201.2 225.8 207.2 224.6C213.1 223.3 211.1 223.6 217.6 222.9C224.1 222.3 223.6 217.0 226.6 222.6C229.6 228.2 247.5 234.1 226.6 239.8C205.7 245.5 185.3 242.3 163.9 239.8C142.5 237.3 162.9 236.5 162.4 232.3C161.9 228.1 159.9 231.0 162.4 227.1Z" fill="#DEE763" stroke="#DEE763" stroke-width="7.2" stroke-linejoin="round"/><path d="M49.4 151.0C55.5 147.0 59.9 148.3 64.4 151.0C68.9 153.7 65.5 154.7 63.0 159.0C60.5 163.3 61.0 160.8 57.0 164.0C53.0 167.2 54.3 165.3 51.0 168.6C47.7 171.9 50.0 170.9 47.0 174.0C44.0 177.1 45.3 177.0 42.0 178.0C38.7 179.0 37.3 179.7 37.0 177.0C36.7 174.3 38.0 174.7 41.0 170.0C44.0 165.3 43.2 169.3 46.0 163.0C48.8 156.7 43.3 155.0 49.4 151.0Z" fill="#AECF85"/><ellipse cx="37.8" cy="185.0" rx="9.4" ry="10.4" fill="#AECF85" transform="rotate(-20 37.8 185.0)"/><ellipse cx="37.8" cy="185.0" rx="8.2" ry="9.2" fill="#7DBBA0" transform="rotate(-20 37.8 185.0)"/><ellipse cx="37.8" cy="185.0" rx="7.2" ry="8.2" fill="#3FA3B8" transform="rotate(-20 37.8 185.0)"/><ellipse cx="64.0" cy="206.0" rx="5.6" ry="5.6" fill="#AECF85"/><ellipse cx="72.0" cy="195.6" rx="7.6" ry="7.6" fill="#AECF85"/><ellipse cx="72.0" cy="195.6" rx="6.6" ry="6.6" fill="#7DBBA0"/><ellipse cx="72.0" cy="195.6" rx="5.8" ry="5.8" fill="#3FA3B8"/><ellipse cx="92.6" cy="184.6" rx="8.6" ry="8.6" fill="#AECF85"/><ellipse cx="92.6" cy="184.6" rx="7.6" ry="7.6" fill="#7DBBA0"/><ellipse cx="92.6" cy="184.6" rx="6.8" ry="6.8" fill="#3FA3B8"/><ellipse cx="89.4" cy="201.6" rx="7.4" ry="7.4" fill="#AECF85"/><ellipse cx="89.4" cy="201.6" rx="6.4" ry="6.4" fill="#7DBBA0"/><ellipse cx="89.4" cy="201.6" rx="5.6" ry="5.6" fill="#3FA3B8"/><ellipse cx="119.6" cy="161.6" rx="7.4" ry="7.4" fill="#AECF85"/><ellipse cx="119.6" cy="161.6" rx="6.4" ry="6.4" fill="#7DBBA0"/><ellipse cx="119.6" cy="161.6" rx="5.6" ry="5.6" fill="#3FA3B8"/><ellipse cx="141.6" cy="225.4" rx="3.6" ry="3.6" fill="#3FA3B8"/><path d="M136.7 169.4C136.5 167.2 136.7 167.5 140.5 166.4C144.2 165.3 143.7 167.1 147.9 166.1C152.2 165.1 150.2 163.6 153.2 163.4C156.1 163.3 153.9 164.4 156.9 165.7C159.9 166.9 159.1 167.2 162.1 167.2C165.1 167.2 165.4 164.7 165.9 165.7C166.3 166.7 165.4 167.4 163.6 170.2C161.9 172.9 162.4 171.2 160.6 173.9C158.9 176.6 160.6 176.4 158.4 178.4C156.1 180.4 156.9 179.9 153.9 179.9C150.9 179.9 151.9 180.1 149.4 178.4C146.9 176.6 149.2 176.4 146.4 174.6C143.7 172.9 144.5 174.9 141.2 173.1C138.0 171.4 137.0 171.7 136.7 169.4Z" fill="#AECF85"/><ellipse cx="161.2" cy="152.0" rx="11.2" ry="13.6" fill="#AECF85"/><ellipse cx="161.2" cy="152.0" rx="10.2" ry="12.6" fill="#3FA3B8"/><ellipse cx="218.0" cy="190.8" rx="13.0" ry="13.6" fill="#AECF85"/><ellipse cx="218.0" cy="190.8" rx="11.6" ry="12.2" fill="#3FA3B8"/><ellipse cx="220.0" cy="153.0" rx="14.0" ry="13.4" fill="#AECF85"/><ellipse cx="220.0" cy="153.0" rx="12.8" ry="12.2" fill="#3FA3B8"/><ellipse cx="158.7" cy="219.6" rx="10.0" ry="10.0" fill="#AECF85"/><ellipse cx="158.7" cy="219.6" rx="9.0" ry="9.0" fill="#7DBBA0"/><ellipse cx="158.7" cy="219.6" rx="8.2" ry="8.2" fill="#3FA3B8"/><path d="M162.4 227.1C164.9 223.2 164.9 223.1 169.9 220.7C174.8 218.3 173.1 218.9 177.3 219.9C181.5 220.9 179.1 220.2 182.5 223.7C186.0 227.1 184.8 228.3 187.8 230.4C190.7 232.5 187.5 231.2 191.5 229.9C195.5 228.7 194.5 228.4 199.7 226.6C204.9 224.9 201.2 225.8 207.2 224.6C213.1 223.3 211.1 223.6 217.6 222.9C224.1 222.3 223.6 217.0 226.6 222.6C229.6 228.2 247.5 234.1 226.6 239.8C205.7 245.5 185.3 242.3 163.9 239.8C142.5 237.3 162.9 236.5 162.4 232.3C161.9 228.1 159.9 231.0 162.4 227.1Z" fill="#AECF85" stroke="#AECF85" stroke-width="3.6" stroke-linejoin="round"/><path d="M162.4 227.1C164.9 223.2 164.9 223.1 169.9 220.7C174.8 218.3 173.1 218.9 177.3 219.9C181.5 220.9 179.1 220.2 182.5 223.7C186.0 227.1 184.8 228.3 187.8 230.4C190.7 232.5 187.5 231.2 191.5 229.9C195.5 228.7 194.5 228.4 199.7 226.6C204.9 224.9 201.2 225.8 207.2 224.6C213.1 223.3 211.1 223.6 217.6 222.9C224.1 222.3 223.6 217.0 226.6 222.6C229.6 228.2 247.5 234.1 226.6 239.8C205.7 245.5 185.3 242.3 163.9 239.8C142.5 237.3 162.9 236.5 162.4 232.3C161.9 228.1 159.9 231.0 162.4 227.1Z" fill="#3FA3B8" stroke="#3FA3B8" stroke-width="1.8" stroke-linejoin="round"/><path d="M72.6 151.0C83.9 149.3 95.9 147.0 107.4 151.0C118.9 155.0 108.5 157.3 107.0 163.0C105.5 168.7 107.0 166.0 103.0 168.0C99.0 170.0 101.0 170.3 95.0 169.0C89.0 167.7 91.0 167.0 85.0 164.0C79.0 161.0 80.9 162.7 77.0 160.0C73.1 157.3 74.9 159.0 73.4 156.0C71.9 153.0 61.3 152.7 72.6 151.0Z" fill="#FFB033"/><path d="M74.0 169.0C79.0 169.3 78.3 169.7 81.0 173.0C83.7 176.3 83.3 175.3 82.0 179.0C80.7 182.7 81.0 181.7 77.0 184.0C73.0 186.3 74.0 184.3 70.0 186.0C66.0 187.7 66.3 185.7 65.0 189.0C63.7 192.3 66.7 192.0 66.0 196.0C65.3 200.0 66.7 198.7 63.0 201.0C59.3 203.3 60.0 203.3 55.0 203.0C50.0 202.7 51.0 203.0 48.0 200.0C45.0 197.0 45.7 198.0 46.0 194.0C46.3 190.0 46.0 191.7 49.0 188.0C52.0 184.3 50.7 186.3 55.0 183.0C59.3 179.7 58.3 181.7 62.0 178.0C65.7 174.3 62.0 175.0 66.0 172.0C70.0 169.0 69.0 168.7 74.0 169.0Z" fill="#FFB033"/><ellipse cx="56.6" cy="193.0" rx="2.6" ry="2.6" fill="#FF8A26"/><path d="M62.0 239.0C39.7 235.5 64.3 234.6 69.0 228.6C73.7 222.6 70.3 225.9 76.0 221.0C81.7 216.1 79.7 217.3 86.0 214.0C92.3 210.7 90.3 214.7 95.0 211.0C99.7 207.3 97.7 208.0 100.0 203.0C102.3 198.0 100.7 197.0 102.0 196.0C103.3 195.0 102.9 197.1 104.0 200.0C105.1 202.9 102.4 204.3 105.4 204.6C108.4 204.9 107.8 203.9 113.0 201.0C118.2 198.1 119.5 201.0 121.0 196.0C122.5 191.0 118.1 192.0 117.4 186.0C116.7 180.0 115.8 182.0 119.0 178.0C122.2 174.0 121.7 174.5 127.0 174.0C132.3 173.5 130.3 173.3 135.0 176.6C139.7 179.9 138.0 179.2 141.0 184.0C144.0 188.8 143.7 186.3 144.0 191.0C144.3 195.7 143.0 194.0 142.0 198.0C141.0 202.0 139.3 199.7 141.0 203.0C142.7 206.3 144.3 204.7 147.0 208.0C149.7 211.3 149.7 209.0 149.0 213.0C148.3 217.0 148.0 216.7 145.0 220.0C142.0 223.3 142.7 220.0 140.0 223.0C137.3 226.0 138.3 223.7 137.0 229.0C135.7 234.3 161.0 235.7 136.0 239.0C111.0 242.3 84.3 242.5 62.0 239.0Z" fill="#FFB033"/><path d="M74.2 239.0C56.5 236.0 75.4 236.0 80.0 230.0C84.6 224.0 82.7 226.3 88.0 221.0C93.3 215.7 91.0 217.8 96.0 214.0C101.0 210.2 98.0 212.3 103.0 209.6C108.0 206.9 105.0 208.2 111.0 206.0C117.0 203.8 115.3 204.8 121.0 203.0C126.7 201.2 123.7 200.6 128.0 200.6C132.3 200.6 130.3 200.5 134.0 203.0C137.7 205.5 136.7 204.7 139.0 208.0C141.3 211.3 140.0 209.3 141.0 213.0C142.0 216.7 143.0 215.3 142.0 219.0C141.0 222.7 140.3 220.3 138.0 224.0C135.7 227.7 136.7 225.0 135.0 230.0C133.3 235.0 153.3 236.0 133.0 239.0C112.7 242.0 91.9 242.0 74.2 239.0Z" fill="#FF8A26"/><path d="M90.0 239.0C78.3 234.7 92.3 234.0 96.0 226.0C99.7 218.0 97.3 220.3 101.0 215.0C104.7 209.7 102.3 212.7 107.0 210.0C111.7 207.3 109.0 208.7 115.0 207.0C121.0 205.3 120.0 205.7 125.0 205.0C130.0 204.3 126.7 203.7 130.0 205.0C133.3 206.3 132.7 205.7 135.0 209.0C137.3 212.3 136.3 211.0 137.0 215.0C137.7 219.0 138.0 217.0 137.0 221.0C136.0 225.0 136.0 221.0 134.0 227.0C132.0 233.0 145.7 235.0 131.0 239.0C116.3 243.0 101.7 243.3 90.0 239.0Z" fill="#FF571A"/><path d="M108.6 239.0C101.9 235.7 107.2 235.7 108.0 229.0C108.8 222.3 108.3 224.7 111.0 219.0C113.7 213.3 112.0 215.3 116.0 212.0C120.0 208.7 119.0 209.7 123.0 209.0C127.0 208.3 125.2 208.3 128.0 210.0C130.8 211.7 129.9 210.7 131.4 214.0C132.9 217.3 132.5 215.3 132.4 220.0C132.3 224.7 132.5 221.7 131.0 228.0C129.5 234.3 135.5 235.3 128.0 239.0C120.5 242.7 115.3 242.3 108.6 239.0Z" fill="#F80C0C"/><path d="M178.2 150.8C171.7 153.5 177.7 154.7 179.3 159.0C180.9 163.2 179.8 161.2 183.0 163.4C186.2 165.7 185.0 165.4 189.0 165.7C193.0 165.9 192.0 166.2 195.0 164.2C197.9 162.2 196.6 164.2 197.9 159.7C199.3 155.2 205.6 153.7 199.0 150.8C192.4 147.8 184.8 148.0 178.2 150.8Z" fill="#FFB033"/><ellipse cx="202.0" cy="173.0" rx="4.4" ry="4.4" fill="#FFB033"/><ellipse cx="194.4" cy="212.6" rx="5.4" ry="5.4" fill="#FFB033"/><ellipse cx="37.8" cy="185.0" rx="6.4" ry="7.4" fill="#2592C0" transform="rotate(-20 37.8 185.0)"/><ellipse cx="72.0" cy="195.6" rx="5.0" ry="5.0" fill="#0A8CC8"/><ellipse cx="92.6" cy="184.6" rx="6.0" ry="6.0" fill="#0A8CC8"/><ellipse cx="89.4" cy="201.6" rx="4.8" ry="4.8" fill="#0A8CC8"/><ellipse cx="119.6" cy="161.6" rx="4.8" ry="4.8" fill="#0A8CC8"/><ellipse cx="141.6" cy="225.4" rx="2.4" ry="2.4" fill="#0A8CC8"/><ellipse cx="161.2" cy="152.0" rx="9.2" ry="11.6" fill="#0A8CC8"/><ellipse cx="218.0" cy="190.8" rx="10.4" ry="11.0" fill="#0A8CC8"/><ellipse cx="220.0" cy="153.0" rx="11.6" ry="11.0" fill="#0A8CC8"/><ellipse cx="158.7" cy="219.6" rx="7.5" ry="7.5" fill="#0A8CC8"/><path d="M162.4 227.1C164.9 223.2 164.9 223.1 169.9 220.7C174.8 218.3 173.1 218.9 177.3 219.9C181.5 220.9 179.1 220.2 182.5 223.7C186.0 227.1 184.8 228.3 187.8 230.4C190.7 232.5 187.5 231.2 191.5 229.9C195.5 228.7 194.5 228.4 199.7 226.6C204.9 224.9 201.2 225.8 207.2 224.6C213.1 223.3 211.1 223.6 217.6 222.9C224.1 222.3 223.6 217.0 226.6 222.6C229.6 228.2 247.5 234.1 226.6 239.8C205.7 245.5 185.3 242.3 163.9 239.8C142.5 237.3 162.9 236.5 162.4 232.3C161.9 228.1 159.9 231.0 162.4 227.1Z" fill="#0A8CC8"/></g></g><g transform="translate(16.00 141.30) scale(0.9856 0.9950)"><rect x="0" y="0" width="243.5" height="100.7" fill="none" stroke="#5a5a5a" stroke-width="0.85"/><path d="M49.4 0V-1.3" stroke="#333" stroke-width="0.6"/><text class="tk" x="49.4" y="-2.7" text-anchor="middle">30°11'40"E</text><path d="M99.6 0V-1.3" stroke="#333" stroke-width="0.6"/><text class="tk" x="99.6" y="-2.7" text-anchor="middle">30°11'50"E</text><path d="M150.0 0V-1.3" stroke="#333" stroke-width="0.6"/><text class="tk" x="150.0" y="-2.7" text-anchor="middle">30°12'0"E</text><path d="M200.6 0V-1.3" stroke="#333" stroke-width="0.6"/><text class="tk" x="200.6" y="-2.7" text-anchor="middle">30°12'10"E</text><path d="M47.0 100.7V99.4" stroke="#333" stroke-width="0.6"/><text class="tk" x="47.0" y="106.5" text-anchor="middle">30°11'40"E</text><path d="M97.0 100.7V99.4" stroke="#333" stroke-width="0.6"/><text class="tk" x="97.0" y="106.5" text-anchor="middle">30°11'50"E</text><path d="M147.0 100.7V99.4" stroke="#333" stroke-width="0.6"/><text class="tk" x="147.0" y="106.5" text-anchor="middle">30°12'0"E</text><path d="M197.6 100.7V99.4" stroke="#333" stroke-width="0.6"/><text class="tk" x="197.6" y="106.5" text-anchor="middle">30°12'10"E</text><path d="M0 40.2H1.3" stroke="#333" stroke-width="0.6"/><text class="tk" transform="translate(-3.5 40.2) rotate(-90)" text-anchor="middle">30°12'0"N</text><path d="M0 98.0H1.3" stroke="#333" stroke-width="0.6"/><text class="tk" transform="translate(-3.5 98.0) rotate(-90)" text-anchor="middle">30°11'50"N</text><path d="M243.5 46.2H242.2" stroke="#333" stroke-width="0.6"/><text class="tk" transform="translate(248.5 46.2) rotate(-90)" text-anchor="middle">30°12'0"N</text><path d="M4.5 0.7L9.5 13.2" stroke="#222" stroke-width="0.5" fill="none"/><path d="M4.5 0.7L1.5 13.2" stroke="#999" stroke-width="0.4" fill="none"/><path d="M1.5 13.6Q3.5 12.4 5.5 13.1T9.5 13.4" stroke="#111" stroke-width="1" fill="none"/><text x="5.5" y="18.9" text-anchor="middle" style="font:5.4px 'Liberation Sans',sans-serif;fill:#111;stroke:#111;stroke-width:.12px">N</text><rect x="77.6" y="98.4" width="79.4" height="2.2" fill="#fff" stroke="#777" stroke-width="0.3"/><rect x="77.60" y="98.4" width="4.75" height="2.2" fill="#111"/><rect x="87.10" y="98.4" width="4.75" height="2.2" fill="#111"/><rect x="96.60" y="98.4" width="19.00" height="2.2" fill="#111"/><rect x="134.60" y="98.4" width="19.00" height="2.2" fill="#111"/><text x="77.6" y="97.6" text-anchor="middle" style="font:2.2px 'Liberation Sans',sans-serif;fill:#444">0</text><text x="87.1" y="97.6" text-anchor="middle" style="font:2.2px 'Liberation Sans',sans-serif;fill:#444">0.05</text><text x="96.6" y="97.6" text-anchor="middle" style="font:2.2px 'Liberation Sans',sans-serif;fill:#444">0.1</text><text x="115.6" y="97.6" text-anchor="middle" style="font:2.2px 'Liberation Sans',sans-serif;fill:#444">0.2</text><text x="134.6" y="97.6" text-anchor="middle" style="font:2.2px 'Liberation Sans',sans-serif;fill:#444">0.3</text><text x="153.6" y="97.6" text-anchor="middle" style="font:2.2px 'Liberation Sans',sans-serif;fill:#444">0.4</text></g><text x="219.0" y="154.0" textLength="35.0" lengthAdjust="spacingAndGlyphs" style="font:bold 3.75px 'Liberation Sans',sans-serif;fill:#222" xml:space="preserve">EC   (IDW, power 3)</text><rect x="219.0" y="157.0" width="12.0" height="5.9" fill="#0A8CC8"/><text x="233.3" y="161.4" style="font:4.15px 'Liberation Sans',sans-serif;fill:#2a2a2a;stroke:#2a2a2a;stroke-width:.1px">0.23 – 0.53</text><rect x="219.0" y="165.0" width="12.0" height="5.9" fill="#3FA3B8"/><text x="233.3" y="169.4" style="font:4.15px 'Liberation Sans',sans-serif;fill:#2a2a2a;stroke:#2a2a2a;stroke-width:.1px">0.53 – 0.66</text><rect x="219.0" y="173.0" width="12.0" height="5.9" fill="#7DBBA0"/><text x="233.3" y="177.4" style="font:4.15px 'Liberation Sans',sans-serif;fill:#2a2a2a;stroke:#2a2a2a;stroke-width:.1px">0.66 – 0.72</text><rect x="219.0" y="181.0" width="12.0" height="5.9" fill="#AECF85"/><text x="233.3" y="185.4" style="font:4.15px 'Liberation Sans',sans-serif;fill:#2a2a2a;stroke:#2a2a2a;stroke-width:.1px">0.72 – 0.85</text><rect x="219.0" y="189.0" width="12.0" height="5.9" fill="#DEE763"/><text x="233.3" y="193.4" style="font:4.15px 'Liberation Sans',sans-serif;fill:#2a2a2a;stroke:#2a2a2a;stroke-width:.1px">0.85 – 1.1</text><rect x="219.0" y="197.0" width="12.0" height="5.9" fill="#FFE144"/><text x="233.3" y="201.4" style="font:4.15px 'Liberation Sans',sans-serif;fill:#2a2a2a;stroke:#2a2a2a;stroke-width:.1px">1.1 – 1.8</text><rect x="219.0" y="205.0" width="12.0" height="5.9" fill="#FFB033"/><text x="233.3" y="209.4" style="font:4.15px 'Liberation Sans',sans-serif;fill:#2a2a2a;stroke:#2a2a2a;stroke-width:.1px">1.8 – 3.4</text><rect x="219.0" y="213.0" width="12.0" height="5.9" fill="#FF8A26"/><text x="233.3" y="217.4" style="font:4.15px 'Liberation Sans',sans-serif;fill:#2a2a2a;stroke:#2a2a2a;stroke-width:.1px">3.4 – 6.8</text><rect x="219.0" y="221.0" width="12.0" height="5.9" fill="#FF571A"/><text x="233.3" y="225.4" style="font:4.15px 'Liberation Sans',sans-serif;fill:#2a2a2a;stroke:#2a2a2a;stroke-width:.1px">6.8 – 15</text><rect x="219.0" y="229.0" width="12.0" height="5.9" fill="#F80C0C"/><text x="233.3" y="233.4" style="font:4.15px 'Liberation Sans',sans-serif;fill:#2a2a2a;stroke:#2a2a2a;stroke-width:.1px">15 – 33</text><clipPath id="cm3"><rect x="295.8" y="152.5" width="196.5" height="84.5"/></clipPath><g clip-path="url(#cm3)"><g filter="url(#bl)"><rect x="291.8" y="148.5" width="204.5" height="92.5" fill="#FFE144"/><path d="M294.0 164.0C298.0 150.3 299.0 164.0 306.0 161.0C313.0 158.0 311.0 158.7 315.0 155.0C319.0 151.3 310.3 151.7 318.0 150.0C325.7 148.3 331.7 147.0 338.0 150.0C344.3 153.0 339.3 153.7 337.0 159.0C334.7 164.3 335.0 161.7 331.0 166.0C327.0 170.3 328.3 168.0 325.0 172.0C321.7 176.0 323.0 173.3 321.0 178.0C319.0 182.7 320.0 180.7 319.0 186.0C318.0 191.3 321.0 189.7 318.0 194.0C315.0 198.3 315.3 196.7 310.0 199.0C304.7 201.3 307.3 200.0 302.0 201.0C296.7 202.0 296.7 214.3 294.0 202.0C291.3 189.7 290.0 177.7 294.0 164.0Z" fill="#DEE763"/><ellipse cx="333.0" cy="206.4" rx="11.0" ry="11.0" fill="#DEE763"/><ellipse cx="326.0" cy="215.0" rx="5.6" ry="5.6" fill="#DEE763"/><path d="M374.0 189.0C377.0 185.3 376.7 187.3 382.0 188.0C387.3 188.7 386.7 188.0 390.0 191.0C393.3 194.0 393.3 193.3 392.0 197.0C390.7 200.7 390.7 200.0 386.0 202.0C381.3 204.0 382.3 204.0 378.0 203.0C373.7 202.0 374.3 203.7 373.0 199.0C371.7 194.3 371.0 192.7 374.0 189.0Z" fill="#DEE763"/><ellipse cx="344.0" cy="196.4" rx="11.2" ry="11.2" fill="#DEE763"/><ellipse cx="364.4" cy="185.0" rx="12.2" ry="12.2" fill="#DEE763"/><ellipse cx="359.6" cy="202.0" rx="11.6" ry="11.6" fill="#DEE763"/><ellipse cx="391.6" cy="161.0" rx="10.2" ry="11.2" fill="#DEE763"/><ellipse cx="415.0" cy="226.4" rx="8.6" ry="8.6" fill="#DEE763"/><path d="M407.0 163.2C410.0 158.2 410.5 162.0 416.0 161.0C421.4 160.0 420.0 159.0 423.4 160.2C426.9 161.5 422.9 162.4 426.4 164.7C429.9 166.9 428.9 166.7 433.9 166.9C438.9 167.2 437.6 167.4 441.3 165.4C445.1 163.4 443.1 163.9 445.1 161.0C447.1 158.0 445.8 156.5 447.3 156.5C448.8 156.5 448.3 157.5 449.6 161.0C450.8 164.4 448.8 163.9 451.0 166.9C453.3 169.9 452.8 168.2 456.3 169.9C459.8 171.7 458.8 169.7 461.5 172.1C464.2 174.6 463.0 173.4 464.5 177.4C466.0 181.4 465.0 179.6 466.0 184.1C467.0 188.6 466.7 186.1 467.5 190.8C468.2 195.5 475.4 195.8 468.2 198.3C461.0 200.8 453.5 201.3 445.8 198.3C438.1 195.3 445.8 194.5 445.1 189.3C444.3 184.1 445.3 186.6 443.6 182.6C441.8 178.6 442.8 179.4 439.9 177.4C436.9 175.4 438.1 175.9 434.6 176.6C431.1 177.4 433.1 178.1 429.4 179.6C425.7 181.1 427.4 181.4 423.4 181.1C419.5 180.9 422.9 180.6 417.5 178.9C412.0 177.1 410.5 181.1 407.0 175.9C403.5 170.7 404.0 168.2 407.0 163.2Z" fill="#DEE763"/><ellipse cx="434.6" cy="151.0" rx="14.4" ry="17.2" fill="#DEE763"/><ellipse cx="492.8" cy="190.4" rx="17.4" ry="17.4" fill="#DEE763"/><ellipse cx="495.0" cy="151.0" rx="20.0" ry="17.4" fill="#DEE763"/><path d="M421.2 218.4C421.2 214.2 420.7 216.1 423.4 213.2C426.2 210.2 424.9 210.8 429.4 209.4C433.9 208.1 431.9 208.1 436.9 209.1C441.8 210.1 439.9 209.3 444.3 212.4C448.8 215.5 446.3 214.7 450.3 218.4C454.3 222.1 452.5 220.4 456.3 223.6C460.0 226.8 458.0 226.2 461.5 228.1C465.0 229.9 462.5 229.6 466.7 229.1C470.9 228.6 469.2 228.1 474.2 226.6C479.2 225.1 474.7 225.7 481.6 224.7C488.6 223.7 490.6 217.7 495.1 223.6C499.6 229.5 515.5 236.0 495.1 242.3C474.7 248.5 455.8 245.8 433.9 242.3C412.0 238.8 432.9 237.3 429.4 231.8C425.9 226.3 426.2 230.3 423.4 225.9C420.7 221.4 421.2 222.6 421.2 218.4Z" fill="#DEE763" stroke="#DEE763" stroke-width="7.8" stroke-linejoin="round"/><path d="M294.0 169.0C297.3 157.7 298.0 169.0 304.0 166.0C310.0 163.0 307.0 164.0 312.0 160.0C317.0 156.0 316.0 157.3 319.0 154.0C322.0 150.7 315.5 151.3 321.0 150.0C326.5 148.7 331.1 147.3 335.6 150.0C340.1 152.7 336.6 153.3 334.4 158.0C332.2 162.7 332.8 160.0 329.0 164.0C325.2 168.0 326.3 166.0 323.0 170.0C319.7 174.0 321.0 171.3 319.0 176.0C317.0 180.7 318.0 178.7 317.0 184.0C316.0 189.3 319.0 187.7 316.0 192.0C313.0 196.3 313.3 194.7 308.0 197.0C302.7 199.3 304.7 198.0 300.0 199.0C295.3 200.0 296.0 210.0 294.0 200.0C292.0 190.0 290.7 180.3 294.0 169.0Z" fill="#AECF85"/><ellipse cx="327.0" cy="156.0" rx="4.0" ry="4.0" fill="#7DBBA0"/><ellipse cx="316.0" cy="169.0" rx="4.4" ry="4.4" fill="#7DBBA0"/><ellipse cx="308.0" cy="184.4" rx="10.4" ry="10.4" fill="#7DBBA0"/><ellipse cx="308.0" cy="184.4" rx="9.4" ry="9.4" fill="#3FA3B8"/><ellipse cx="333.0" cy="206.4" rx="8.0" ry="8.0" fill="#AECF85"/><ellipse cx="333.0" cy="206.4" rx="5.0" ry="5.0" fill="#7DBBA0"/><ellipse cx="344.0" cy="196.4" rx="9.8" ry="9.8" fill="#AECF85"/><ellipse cx="344.0" cy="196.4" rx="8.8" ry="8.8" fill="#3FA3B8"/><ellipse cx="364.4" cy="185.0" rx="10.8" ry="10.8" fill="#AECF85"/><ellipse cx="364.4" cy="185.0" rx="9.8" ry="9.8" fill="#3FA3B8"/><ellipse cx="359.6" cy="202.0" rx="10.2" ry="10.2" fill="#AECF85"/><ellipse cx="359.6" cy="202.0" rx="9.2" ry="9.2" fill="#3FA3B8"/><ellipse cx="391.6" cy="161.0" rx="8.8" ry="9.8" fill="#AECF85"/><ellipse cx="391.6" cy="161.0" rx="7.6" ry="8.6" fill="#3FA3B8"/><ellipse cx="415.0" cy="226.4" rx="7.0" ry="7.0" fill="#AECF85"/><path d="M407.0 165.4C410.5 162.0 411.7 164.7 417.5 163.9C423.2 163.2 420.7 162.2 424.2 163.2C427.7 164.2 424.7 165.2 427.9 166.9C431.1 168.7 430.1 168.4 433.9 168.4C437.6 168.4 437.9 165.9 439.1 166.9C440.3 167.9 439.4 168.4 437.6 171.4C435.9 174.4 436.9 173.4 433.9 175.9C430.9 178.4 432.4 177.6 428.7 178.9C424.9 180.1 426.4 180.4 422.7 179.6C419.0 178.9 422.7 178.4 417.5 176.6C412.2 174.9 410.5 178.1 407.0 174.4C403.5 170.7 403.5 168.9 407.0 165.4Z" fill="#AECF85"/><ellipse cx="425.7" cy="172.9" rx="4.2" ry="4.2" fill="#7DBBA0"/><ellipse cx="434.6" cy="151.0" rx="12.4" ry="15.2" fill="#AECF85"/><ellipse cx="434.6" cy="151.0" rx="11.4" ry="14.2" fill="#3FA3B8"/><ellipse cx="456.3" cy="181.9" rx="4.2" ry="4.2" fill="#AECF85"/><ellipse cx="492.8" cy="190.4" rx="14.8" ry="14.8" fill="#AECF85"/><ellipse cx="492.8" cy="190.4" rx="13.6" ry="13.6" fill="#3FA3B8"/><ellipse cx="495.0" cy="151.0" rx="17.4" ry="14.8" fill="#AECF85"/><ellipse cx="495.0" cy="151.0" rx="16.2" ry="13.6" fill="#3FA3B8"/><path d="M421.2 218.4C421.2 214.2 420.7 216.1 423.4 213.2C426.2 210.2 424.9 210.8 429.4 209.4C433.9 208.1 431.9 208.1 436.9 209.1C441.8 210.1 439.9 209.3 444.3 212.4C448.8 215.5 446.3 214.7 450.3 218.4C454.3 222.1 452.5 220.4 456.3 223.6C460.0 226.8 458.0 226.2 461.5 228.1C465.0 229.9 462.5 229.6 466.7 229.1C470.9 228.6 469.2 228.1 474.2 226.6C479.2 225.1 474.7 225.7 481.6 224.7C488.6 223.7 490.6 217.7 495.1 223.6C499.6 229.5 515.5 236.0 495.1 242.3C474.7 248.5 455.8 245.8 433.9 242.3C412.0 238.8 432.9 237.3 429.4 231.8C425.9 226.3 426.2 230.3 423.4 225.9C420.7 221.4 421.2 222.6 421.2 218.4Z" fill="#AECF85" stroke="#AECF85" stroke-width="3.9" stroke-linejoin="round"/><path d="M421.2 218.4C421.2 214.2 420.7 216.1 423.4 213.2C426.2 210.2 424.9 210.8 429.4 209.4C433.9 208.1 431.9 208.1 436.9 209.1C441.8 210.1 439.9 209.3 444.3 212.4C448.8 215.5 446.3 214.7 450.3 218.4C454.3 222.1 452.5 220.4 456.3 223.6C460.0 226.8 458.0 226.2 461.5 228.1C465.0 229.9 462.5 229.6 466.7 229.1C470.9 228.6 469.2 228.1 474.2 226.6C479.2 225.1 474.7 225.7 481.6 224.7C488.6 223.7 490.6 217.7 495.1 223.6C499.6 229.5 515.5 236.0 495.1 242.3C474.7 248.5 455.8 245.8 433.9 242.3C412.0 238.8 432.9 237.3 429.4 231.8C425.9 226.3 426.2 230.3 423.4 225.9C420.7 221.4 421.2 222.6 421.2 218.4Z" fill="#3FA3B8" stroke="#3FA3B8" stroke-width="1.8" stroke-linejoin="round"/><path d="M342.0 150.0C354.0 147.7 366.7 145.3 379.0 150.0C391.3 154.7 380.7 157.7 379.0 164.0C377.3 170.3 379.0 166.3 374.0 169.0C369.0 171.7 370.0 170.3 364.0 172.0C358.0 173.7 359.3 171.3 356.0 174.0C352.7 176.7 356.3 176.7 354.0 180.0C351.7 183.3 352.7 182.3 349.0 184.0C345.3 185.7 347.3 183.7 343.0 185.0C338.7 186.3 339.0 184.7 336.0 188.0C333.0 191.3 335.7 190.7 334.0 195.0C332.3 199.3 334.7 198.3 331.0 201.0C327.3 203.7 328.0 203.3 323.0 203.0C318.0 202.7 318.7 203.3 316.0 200.0C313.3 196.7 314.0 197.3 315.0 193.0C316.0 188.7 315.3 191.0 319.0 187.0C322.7 183.0 321.0 185.0 326.0 181.0C331.0 177.0 329.3 179.0 334.0 175.0C338.7 171.0 336.7 172.7 340.0 169.0C343.3 165.3 343.0 168.0 344.0 164.0C345.0 160.0 343.7 161.7 343.0 157.0C342.3 152.3 330.0 152.3 342.0 150.0Z" fill="#FFB033"/><ellipse cx="326.4" cy="193.0" rx="4.0" ry="4.0" fill="#FF8A26"/><path d="M324.0 238.0C300.0 235.0 328.7 234.7 336.0 229.0C343.3 223.3 339.3 225.7 346.0 221.0C352.7 216.3 349.3 218.0 356.0 215.0C362.7 212.0 361.0 215.3 366.0 212.0C371.0 208.7 368.3 208.3 371.0 205.0C373.7 201.7 371.0 202.0 374.0 202.0C377.0 202.0 374.7 205.0 380.0 205.0C385.3 205.0 385.9 205.3 390.0 202.0C394.1 198.7 391.1 199.3 392.4 195.0C393.7 190.7 394.5 192.7 394.0 189.0C393.5 185.3 392.3 187.7 391.0 184.0C389.7 180.3 388.3 181.3 390.0 178.0C391.7 174.7 391.0 175.0 396.0 174.0C401.0 173.0 400.0 172.3 405.0 175.0C410.0 177.7 408.3 177.0 411.0 182.0C413.7 187.0 413.0 185.0 413.0 190.0C413.0 195.0 410.7 193.0 411.0 197.0C411.3 201.0 412.0 198.3 414.0 202.0C416.0 205.7 416.3 203.3 417.0 208.0C417.7 212.7 418.0 211.7 416.0 216.0C414.0 220.3 413.3 217.0 411.0 221.0C408.7 225.0 410.0 222.3 409.0 228.0C408.0 233.7 436.3 234.7 408.0 238.0C379.7 241.3 348.0 241.0 324.0 238.0Z" fill="#FFB033"/><path d="M341.0 238.0C322.0 234.7 343.7 234.3 350.0 228.0C356.3 221.7 353.3 224.7 360.0 219.0C366.7 213.3 364.7 215.0 370.0 211.0C375.3 207.0 370.7 208.7 376.0 207.0C381.3 205.3 379.3 207.1 386.0 206.0C392.7 204.9 389.0 204.6 396.0 203.6C403.0 202.6 401.7 201.2 407.0 203.0C412.3 204.8 410.0 204.7 412.0 209.0C414.0 213.3 413.7 211.3 413.0 216.0C412.3 220.7 412.0 215.7 410.0 223.0C408.0 230.3 430.0 233.0 407.0 238.0C384.0 243.0 360.0 241.3 341.0 238.0Z" fill="#FF8A26"/><path d="M358.4 238.0C345.5 235.0 360.8 235.7 365.0 229.0C369.2 222.3 367.3 224.0 371.0 218.0C374.7 212.0 371.7 214.3 376.0 211.0C380.3 207.7 378.0 209.8 384.0 208.0C390.0 206.2 387.3 206.6 394.0 205.6C400.7 204.6 399.3 203.2 404.0 205.0C408.7 206.8 406.5 206.3 408.0 211.0C409.5 215.7 409.1 213.7 408.4 219.0C407.7 224.3 407.6 220.7 406.0 227.0C404.4 233.3 419.5 234.3 403.6 238.0C387.7 241.7 371.3 241.0 358.4 238.0Z" fill="#FF571A"/><path d="M375.6 238.0C368.1 235.0 375.2 235.3 377.0 229.0C378.8 222.7 377.7 224.7 381.0 219.0C384.3 213.3 382.7 215.7 387.0 212.0C391.3 208.3 389.3 209.3 394.0 208.0C398.7 206.7 397.5 206.0 401.0 208.0C404.5 210.0 403.3 209.3 404.4 214.0C405.5 218.7 405.2 216.7 404.4 222.0C403.6 227.3 403.6 224.7 402.0 230.0C400.4 235.3 408.4 235.3 399.6 238.0C390.8 240.7 383.1 241.0 375.6 238.0Z" fill="#F80C0C"/><path d="M450.0 150.0C457.3 146.7 466.7 146.3 475.0 150.0C483.3 153.7 473.3 155.3 475.0 161.0C476.7 166.7 477.7 162.7 480.0 167.0C482.3 171.3 482.7 170.0 482.0 174.0C481.3 178.0 481.0 177.7 478.0 179.0C475.0 180.3 475.7 180.3 473.0 178.0C470.3 175.7 472.3 175.7 470.0 172.0C467.7 168.3 470.0 169.3 466.0 167.0C462.0 164.7 462.3 167.3 458.0 165.0C453.7 162.7 455.7 165.0 453.0 160.0C450.3 155.0 442.7 153.3 450.0 150.0Z" fill="#FFB033"/><ellipse cx="468.2" cy="212.7" rx="7.8" ry="7.5" fill="#FFB033"/><ellipse cx="308.0" cy="184.4" rx="8.4" ry="8.4" fill="#0A8CC8"/><ellipse cx="344.0" cy="196.4" rx="8.0" ry="8.0" fill="#0A8CC8"/><ellipse cx="364.4" cy="185.0" rx="9.0" ry="9.0" fill="#0A8CC8"/><ellipse cx="359.6" cy="202.0" rx="8.4" ry="8.4" fill="#0A8CC8"/><ellipse cx="352.0" cy="200.0" rx="5.4" ry="5.4" fill="#0A8CC8"/><ellipse cx="362.4" cy="193.6" rx="4.8" ry="4.8" fill="#0A8CC8"/><ellipse cx="391.6" cy="161.0" rx="6.6" ry="7.6" fill="#2592C0"/><ellipse cx="415.0" cy="226.4" rx="5.0" ry="5.0" fill="#3FA3B8"/><ellipse cx="434.6" cy="151.0" rx="10.4" ry="13.2" fill="#0A8CC8"/><ellipse cx="492.8" cy="190.4" rx="12.4" ry="12.4" fill="#0A8CC8"/><ellipse cx="495.0" cy="151.0" rx="15.0" ry="12.4" fill="#0A8CC8"/><path d="M421.2 218.4C421.2 214.2 420.7 216.1 423.4 213.2C426.2 210.2 424.9 210.8 429.4 209.4C433.9 208.1 431.9 208.1 436.9 209.1C441.8 210.1 439.9 209.3 444.3 212.4C448.8 215.5 446.3 214.7 450.3 218.4C454.3 222.1 452.5 220.4 456.3 223.6C460.0 226.8 458.0 226.2 461.5 228.1C465.0 229.9 462.5 229.6 466.7 229.1C470.9 228.6 469.2 228.1 474.2 226.6C479.2 225.1 474.7 225.7 481.6 224.7C488.6 223.7 490.6 217.7 495.1 223.6C499.6 229.5 515.5 236.0 495.1 242.3C474.7 248.5 455.8 245.8 433.9 242.3C412.0 238.8 432.9 237.3 429.4 231.8C425.9 226.3 426.2 230.3 423.4 225.9C420.7 221.4 421.2 222.6 421.2 218.4Z" fill="#0A8CC8"/></g></g><g transform="translate(284.70 140.20) scale(1.0136 1.0209)"><rect x="0" y="0" width="243.5" height="100.7" fill="none" stroke="#5a5a5a" stroke-width="0.85"/><path d="M49.4 0V-1.3" stroke="#333" stroke-width="0.6"/><text class="tk" x="49.4" y="-2.7" text-anchor="middle">30°11'40"E</text><path d="M99.6 0V-1.3" stroke="#333" stroke-width="0.6"/><text class="tk" x="99.6" y="-2.7" text-anchor="middle">30°11'50"E</text><path d="M150.0 0V-1.3" stroke="#333" stroke-width="0.6"/><text class="tk" x="150.0" y="-2.7" text-anchor="middle">30°12'0"E</text><path d="M200.6 0V-1.3" stroke="#333" stroke-width="0.6"/><text class="tk" x="200.6" y="-2.7" text-anchor="middle">30°12'10"E</text><path d="M47.0 100.7V99.4" stroke="#333" stroke-width="0.6"/><text class="tk" x="47.0" y="106.5" text-anchor="middle">30°11'40"E</text><path d="M97.0 100.7V99.4" stroke="#333" stroke-width="0.6"/><text class="tk" x="97.0" y="106.5" text-anchor="middle">30°11'50"E</text><path d="M147.0 100.7V99.4" stroke="#333" stroke-width="0.6"/><text class="tk" x="147.0" y="106.5" text-anchor="middle">30°12'0"E</text><path d="M197.6 100.7V99.4" stroke="#333" stroke-width="0.6"/><text class="tk" x="197.6" y="106.5" text-anchor="middle">30°12'10"E</text><path d="M0 40.2H1.3" stroke="#333" stroke-width="0.6"/><text class="tk" transform="translate(-3.5 40.2) rotate(-90)" text-anchor="middle">30°12'0"N</text><path d="M0 98.0H1.3" stroke="#333" stroke-width="0.6"/><text class="tk" transform="translate(-3.5 98.0) rotate(-90)" text-anchor="middle">30°11'50"N</text><path d="M243.5 46.2H242.2" stroke="#333" stroke-width="0.6"/><text class="tk" transform="translate(248.5 46.2) rotate(-90)" text-anchor="middle">30°12'0"N</text><path d="M4.5 0.7L9.5 13.2" stroke="#222" stroke-width="0.5" fill="none"/><path d="M4.5 0.7L1.5 13.2" stroke="#999" stroke-width="0.4" fill="none"/><path d="M1.5 13.6Q3.5 12.4 5.5 13.1T9.5 13.4" stroke="#111" stroke-width="1" fill="none"/><text x="5.5" y="18.9" text-anchor="middle" style="font:5.4px 'Liberation Sans',sans-serif;fill:#111;stroke:#111;stroke-width:.12px">N</text><rect x="77.6" y="98.4" width="79.4" height="2.2" fill="#fff" stroke="#777" stroke-width="0.3"/><rect x="77.60" y="98.4" width="4.75" height="2.2" fill="#111"/><rect x="87.10" y="98.4" width="4.75" height="2.2" fill="#111"/><rect x="96.60" y="98.4" width="19.00" height="2.2" fill="#111"/><rect x="134.60" y="98.4" width="19.00" height="2.2" fill="#111"/><text x="77.6" y="97.6" text-anchor="middle" style="font:2.2px 'Liberation Sans',sans-serif;fill:#444">0</text><text x="87.1" y="97.6" text-anchor="middle" style="font:2.2px 'Liberation Sans',sans-serif;fill:#444">0.05</text><text x="96.6" y="97.6" text-anchor="middle" style="font:2.2px 'Liberation Sans',sans-serif;fill:#444">0.1</text><text x="115.6" y="97.6" text-anchor="middle" style="font:2.2px 'Liberation Sans',sans-serif;fill:#444">0.2</text><text x="134.6" y="97.6" text-anchor="middle" style="font:2.2px 'Liberation Sans',sans-serif;fill:#444">0.3</text><text x="153.6" y="97.6" text-anchor="middle" style="font:2.2px 'Liberation Sans',sans-serif;fill:#444">0.4</text></g><text x="493.8" y="153.3" textLength="35.2" lengthAdjust="spacingAndGlyphs" style="font:bold 3.77px 'Liberation Sans',sans-serif;fill:#222" xml:space="preserve">EC   (IDW, power 4)</text><rect x="493.8" y="156.2" width="12.0" height="6.0" fill="#0A8CC8"/><text x="508.0" y="160.7" style="font:4.15px 'Liberation Sans',sans-serif;fill:#2a2a2a;stroke:#2a2a2a;stroke-width:.1px">0.23 – 0.53</text><rect x="493.8" y="164.4" width="12.0" height="6.0" fill="#3FA3B8"/><text x="508.0" y="168.9" style="font:4.15px 'Liberation Sans',sans-serif;fill:#2a2a2a;stroke:#2a2a2a;stroke-width:.1px">0.53 – 0.66</text><rect x="493.8" y="172.6" width="12.0" height="6.0" fill="#7DBBA0"/><text x="508.0" y="177.1" style="font:4.15px 'Liberation Sans',sans-serif;fill:#2a2a2a;stroke:#2a2a2a;stroke-width:.1px">0.66 – 0.72</text><rect x="493.8" y="180.8" width="12.0" height="6.0" fill="#AECF85"/><text x="508.0" y="185.3" style="font:4.15px 'Liberation Sans',sans-serif;fill:#2a2a2a;stroke:#2a2a2a;stroke-width:.1px">0.72 – 0.85</text><rect x="493.8" y="189.0" width="12.0" height="6.0" fill="#DEE763"/><text x="508.0" y="193.5" style="font:4.15px 'Liberation Sans',sans-serif;fill:#2a2a2a;stroke:#2a2a2a;stroke-width:.1px">0.85 – 1.1</text><rect x="493.8" y="197.2" width="12.0" height="6.0" fill="#FFE144"/><text x="508.0" y="201.7" style="font:4.15px 'Liberation Sans',sans-serif;fill:#2a2a2a;stroke:#2a2a2a;stroke-width:.1px">1.1 – 1.8</text><rect x="493.8" y="205.4" width="12.0" height="6.0" fill="#FFB033"/><text x="508.0" y="209.9" style="font:4.15px 'Liberation Sans',sans-serif;fill:#2a2a2a;stroke:#2a2a2a;stroke-width:.1px">1.8 – 3.4</text><rect x="493.8" y="213.6" width="12.0" height="6.0" fill="#FF8A26"/><text x="508.0" y="218.1" style="font:4.15px 'Liberation Sans',sans-serif;fill:#2a2a2a;stroke:#2a2a2a;stroke-width:.1px">3.4 – 6.8</text><rect x="493.8" y="221.8" width="12.0" height="6.0" fill="#FF571A"/><text x="508.0" y="226.3" style="font:4.15px 'Liberation Sans',sans-serif;fill:#2a2a2a;stroke:#2a2a2a;stroke-width:.1px">6.8 – 15</text><rect x="493.8" y="230.0" width="12.0" height="6.0" fill="#F80C0C"/><text x="508.0" y="234.5" style="font:4.15px 'Liberation Sans',sans-serif;fill:#2a2a2a;stroke:#2a2a2a;stroke-width:.1px">15 – 33</text><clipPath id="cm4"><rect x="28.0" y="280.0" width="189.8" height="81.0"/></clipPath><g clip-path="url(#cm4)"><g filter="url(#bl)"><rect x="24.0" y="276.0" width="197.8" height="89.0" fill="#FFE144"/><path d="M26.0 297.0C30.0 283.3 30.7 295.1 38.0 290.0C45.3 284.9 43.9 285.6 48.0 281.6C52.1 277.6 42.7 279.2 50.4 278.0C58.1 276.8 64.5 275.0 71.0 278.0C77.5 281.0 72.3 281.7 70.0 287.0C67.7 292.3 68.0 289.7 64.0 294.0C60.0 298.3 61.5 296.0 58.0 300.0C54.5 304.0 55.7 301.3 53.6 306.0C51.5 310.7 52.7 308.3 51.6 314.0C50.5 319.7 53.6 318.3 50.4 323.0C47.2 327.7 47.5 325.7 42.0 328.0C36.5 330.3 39.3 329.0 34.0 330.0C28.7 331.0 28.7 342.0 26.0 331.0C23.3 320.0 22.0 310.7 26.0 297.0Z" fill="#DEE763"/><ellipse cx="63.0" cy="333.0" rx="12.0" ry="12.0" fill="#DEE763"/><ellipse cx="55.0" cy="345.0" rx="6.0" ry="6.0" fill="#DEE763"/><path d="M105.0 317.0C108.0 313.0 107.0 314.7 112.0 315.0C117.0 315.3 116.3 314.7 120.0 318.0C123.7 321.3 124.3 321.3 123.0 325.0C121.7 328.7 121.0 327.3 116.0 329.0C111.0 330.7 112.3 330.7 108.0 330.0C103.7 329.3 104.0 331.3 103.0 327.0C102.0 322.7 102.0 321.0 105.0 317.0Z" fill="#DEE763"/><path d="M66.0 323.0C65.7 319.0 65.3 319.7 68.0 317.0C70.7 314.3 69.7 315.0 74.0 315.0C78.3 315.0 77.3 317.7 81.0 317.0C84.7 316.3 83.3 316.7 85.0 313.0C86.7 309.3 84.0 309.7 86.0 306.0C88.0 302.3 87.0 303.5 91.0 302.0C95.0 300.5 93.8 300.3 98.0 301.6C102.2 302.9 101.5 302.2 103.6 306.0C105.7 309.8 104.9 308.7 104.4 313.0C103.9 317.3 103.8 315.3 102.0 319.0C100.2 322.7 100.3 320.3 99.0 324.0C97.7 327.7 99.7 326.3 98.0 330.0C96.3 333.7 97.3 332.7 94.0 335.0C90.7 337.3 92.3 337.0 88.0 337.0C83.7 337.0 85.3 337.0 81.0 335.0C76.7 333.0 79.0 333.0 75.0 331.0C71.0 329.0 72.0 331.7 69.0 329.0C66.0 326.3 66.3 327.0 66.0 323.0Z" fill="#DEE763" stroke="#DEE763" stroke-width="5.6" stroke-linejoin="round"/><ellipse cx="120.0" cy="289.0" rx="9.8" ry="11.2" fill="#DEE763"/><ellipse cx="143.0" cy="352.0" rx="9.2" ry="9.2" fill="#DEE763"/><path d="M133.0 289.0C136.5 284.0 137.5 287.5 143.5 287.5C149.4 287.5 146.9 287.0 150.9 289.0C154.9 290.9 151.7 291.4 155.4 293.4C159.1 295.4 157.6 294.9 162.1 294.9C166.6 294.9 165.4 295.4 168.8 293.4C172.3 291.4 170.8 291.9 172.6 289.0C174.3 286.0 172.8 284.0 174.1 284.5C175.3 285.0 174.8 286.7 176.3 290.4C177.8 294.2 176.0 293.2 178.5 295.7C181.0 298.2 180.3 296.4 183.8 297.9C187.2 299.4 186.2 297.7 189.0 300.1C191.7 302.6 190.5 301.4 192.0 305.4C193.5 309.4 192.7 307.6 193.5 312.1C194.2 316.6 193.7 314.1 194.2 318.8C194.7 323.5 202.2 323.8 195.0 326.3C187.7 328.8 180.3 329.3 172.6 326.3C164.9 323.3 172.6 322.5 171.8 317.3C171.1 312.1 172.1 314.6 170.3 310.6C168.6 306.6 169.6 307.1 166.6 305.4C163.6 303.6 164.9 304.4 161.4 305.4C157.9 306.4 159.9 307.1 156.1 308.4C152.4 309.6 154.4 309.9 150.2 309.1C146.0 308.4 149.2 308.4 143.5 306.1C137.7 303.9 136.5 308.1 133.0 302.4C129.5 296.7 129.5 293.9 133.0 289.0Z" fill="#DEE763"/><ellipse cx="162.0" cy="279.0" rx="14.8" ry="17.6" fill="#DEE763"/><ellipse cx="218.4" cy="317.2" rx="17.4" ry="17.0" fill="#DEE763"/><ellipse cx="222.0" cy="279.0" rx="21.0" ry="17.4" fill="#DEE763"/><path d="M147.9 344.6C148.4 340.9 147.4 342.1 150.2 338.7C152.9 335.2 151.7 336.2 156.1 334.2C160.6 332.2 158.6 332.4 163.6 332.7C168.6 332.9 166.6 332.4 171.1 334.9C175.6 337.4 173.6 336.7 177.0 340.1C180.5 343.6 178.5 341.9 181.5 345.4C184.5 348.9 183.0 347.7 186.0 350.6C189.0 353.5 187.2 353.0 190.5 354.0C193.7 355.0 191.5 354.6 195.7 353.6C199.9 352.6 198.2 352.5 203.2 351.0C208.1 349.6 204.7 350.1 210.6 349.3C216.6 348.4 217.6 342.7 221.1 348.4C224.6 354.0 242.5 360.3 221.1 366.3C199.7 372.2 179.8 369.8 156.9 366.3C134.0 362.8 155.2 361.3 152.4 355.8C149.7 350.3 150.2 353.6 148.7 349.9C147.2 346.1 147.4 348.4 147.9 344.6Z" fill="#DEE763" stroke="#DEE763" stroke-width="7.8" stroke-linejoin="round"/><path d="M26.0 301.0C29.3 290.3 29.7 301.0 36.0 297.0C42.3 293.0 39.8 295.3 45.0 289.0C50.2 282.7 43.9 281.7 51.6 278.0C59.3 274.3 62.9 275.3 68.0 278.0C73.1 280.7 69.1 281.3 67.0 286.0C64.9 290.7 65.4 288.0 61.6 292.0C57.8 296.0 58.9 294.0 55.6 298.0C52.3 302.0 53.6 299.3 51.6 304.0C49.6 308.7 50.5 306.3 49.6 312.0C48.7 317.7 52.0 316.3 48.8 321.0C45.6 325.7 45.6 323.7 40.0 326.0C34.4 328.3 36.7 327.0 32.0 328.0C27.3 329.0 28.0 338.0 26.0 329.0C24.0 320.0 22.7 311.7 26.0 301.0Z" fill="#AECF85"/><ellipse cx="58.0" cy="285.0" rx="7.2" ry="6.8" fill="#7DBBA0"/><ellipse cx="58.0" cy="285.0" rx="6.0" ry="5.6" fill="#3FA3B8"/><ellipse cx="48.0" cy="296.4" rx="7.2" ry="7.2" fill="#7DBBA0"/><ellipse cx="48.0" cy="296.4" rx="6.0" ry="6.0" fill="#3FA3B8"/><ellipse cx="39.6" cy="312.0" rx="10.4" ry="11.6" fill="#7DBBA0"/><ellipse cx="39.6" cy="312.0" rx="9.4" ry="10.6" fill="#3FA3B8"/><ellipse cx="63.0" cy="333.0" rx="9.0" ry="9.0" fill="#AECF85"/><ellipse cx="63.0" cy="333.0" rx="7.2" ry="7.2" fill="#7DBBA0"/><ellipse cx="63.0" cy="333.0" rx="6.0" ry="6.0" fill="#3FA3B8"/><path d="M66.0 323.0C65.7 319.0 65.3 319.7 68.0 317.0C70.7 314.3 69.7 315.0 74.0 315.0C78.3 315.0 77.3 317.7 81.0 317.0C84.7 316.3 83.3 316.7 85.0 313.0C86.7 309.3 84.0 309.7 86.0 306.0C88.0 302.3 87.0 303.5 91.0 302.0C95.0 300.5 93.8 300.3 98.0 301.6C102.2 302.9 101.5 302.2 103.6 306.0C105.7 309.8 104.9 308.7 104.4 313.0C103.9 317.3 103.8 315.3 102.0 319.0C100.2 322.7 100.3 320.3 99.0 324.0C97.7 327.7 99.7 326.3 98.0 330.0C96.3 333.7 97.3 332.7 94.0 335.0C90.7 337.3 92.3 337.0 88.0 337.0C83.7 337.0 85.3 337.0 81.0 335.0C76.7 333.0 79.0 333.0 75.0 331.0C71.0 329.0 72.0 331.7 69.0 329.0C66.0 326.3 66.3 327.0 66.0 323.0Z" fill="#AECF85" stroke="#AECF85" stroke-width="3.2" stroke-linejoin="round"/><path d="M66.0 323.0C65.7 319.0 65.3 319.7 68.0 317.0C70.7 314.3 69.7 315.0 74.0 315.0C78.3 315.0 77.3 317.7 81.0 317.0C84.7 316.3 83.3 316.7 85.0 313.0C86.7 309.3 84.0 309.7 86.0 306.0C88.0 302.3 87.0 303.5 91.0 302.0C95.0 300.5 93.8 300.3 98.0 301.6C102.2 302.9 101.5 302.2 103.6 306.0C105.7 309.8 104.9 308.7 104.4 313.0C103.9 317.3 103.8 315.3 102.0 319.0C100.2 322.7 100.3 320.3 99.0 324.0C97.7 327.7 99.7 326.3 98.0 330.0C96.3 333.7 97.3 332.7 94.0 335.0C90.7 337.3 92.3 337.0 88.0 337.0C83.7 337.0 85.3 337.0 81.0 335.0C76.7 333.0 79.0 333.0 75.0 331.0C71.0 329.0 72.0 331.7 69.0 329.0C66.0 326.3 66.3 327.0 66.0 323.0Z" fill="#3FA3B8" stroke="#3FA3B8" stroke-width="1.6" stroke-linejoin="round"/><ellipse cx="120.0" cy="289.0" rx="8.6" ry="10.0" fill="#AECF85"/><ellipse cx="120.0" cy="289.0" rx="7.8" ry="9.2" fill="#7DBBA0"/><ellipse cx="143.0" cy="352.0" rx="7.6" ry="7.6" fill="#AECF85"/><path d="M133.0 291.9C136.5 288.5 137.5 290.7 143.5 290.4C149.4 290.2 147.2 289.7 150.9 291.2C154.7 292.7 151.4 293.3 154.7 294.9C157.9 296.6 156.9 296.1 160.6 296.1C164.4 296.1 164.6 293.8 165.9 294.9C167.1 296.0 166.1 296.4 164.4 299.4C162.6 302.4 163.6 301.4 160.6 303.9C157.6 306.4 159.1 305.6 155.4 306.9C151.7 308.1 153.4 308.6 149.4 307.6C145.5 306.6 148.9 306.1 143.5 303.9C138.0 301.6 136.5 304.9 133.0 300.9C129.5 296.9 129.5 295.4 133.0 291.9Z" fill="#AECF85"/><ellipse cx="153.9" cy="298.7" rx="5.7" ry="6.3" fill="#7DBBA0"/><ellipse cx="162.0" cy="279.0" rx="12.8" ry="15.6" fill="#AECF85"/><ellipse cx="162.0" cy="279.0" rx="11.8" ry="14.6" fill="#3FA3B8"/><ellipse cx="183.0" cy="308.4" rx="5.2" ry="6.0" fill="#AECF85"/><ellipse cx="218.4" cy="317.2" rx="14.8" ry="14.4" fill="#AECF85"/><ellipse cx="218.4" cy="317.2" rx="13.6" ry="13.2" fill="#3FA3B8"/><ellipse cx="222.0" cy="279.0" rx="18.4" ry="14.8" fill="#AECF85"/><ellipse cx="222.0" cy="279.0" rx="17.2" ry="13.6" fill="#3FA3B8"/><path d="M147.9 344.6C148.4 340.9 147.4 342.1 150.2 338.7C152.9 335.2 151.7 336.2 156.1 334.2C160.6 332.2 158.6 332.4 163.6 332.7C168.6 332.9 166.6 332.4 171.1 334.9C175.6 337.4 173.6 336.7 177.0 340.1C180.5 343.6 178.5 341.9 181.5 345.4C184.5 348.9 183.0 347.7 186.0 350.6C189.0 353.5 187.2 353.0 190.5 354.0C193.7 355.0 191.5 354.6 195.7 353.6C199.9 352.6 198.2 352.5 203.2 351.0C208.1 349.6 204.7 350.1 210.6 349.3C216.6 348.4 217.6 342.7 221.1 348.4C224.6 354.0 242.5 360.3 221.1 366.3C199.7 372.2 179.8 369.8 156.9 366.3C134.0 362.8 155.2 361.3 152.4 355.8C149.7 350.3 150.2 353.6 148.7 349.9C147.2 346.1 147.4 348.4 147.9 344.6Z" fill="#AECF85" stroke="#AECF85" stroke-width="3.9" stroke-linejoin="round"/><path d="M147.9 344.6C148.4 340.9 147.4 342.1 150.2 338.7C152.9 335.2 151.7 336.2 156.1 334.2C160.6 332.2 158.6 332.4 163.6 332.7C168.6 332.9 166.6 332.4 171.1 334.9C175.6 337.4 173.6 336.7 177.0 340.1C180.5 343.6 178.5 341.9 181.5 345.4C184.5 348.9 183.0 347.7 186.0 350.6C189.0 353.5 187.2 353.0 190.5 354.0C193.7 355.0 191.5 354.6 195.7 353.6C199.9 352.6 198.2 352.5 203.2 351.0C208.1 349.6 204.7 350.1 210.6 349.3C216.6 348.4 217.6 342.7 221.1 348.4C224.6 354.0 242.5 360.3 221.1 366.3C199.7 372.2 179.8 369.8 156.9 366.3C134.0 362.8 155.2 361.3 152.4 355.8C149.7 350.3 150.2 353.6 148.7 349.9C147.2 346.1 147.4 348.4 147.9 344.6Z" fill="#3FA3B8" stroke="#3FA3B8" stroke-width="1.8" stroke-linejoin="round"/><path d="M71.0 278.0C82.7 274.7 96.3 273.3 109.0 278.0C121.7 282.7 110.7 285.7 109.0 292.0C107.3 298.3 109.0 294.7 104.0 297.0C99.0 299.3 99.3 297.3 94.0 299.0C88.7 300.7 90.7 299.0 88.0 302.0C85.3 305.0 88.3 304.7 86.0 308.0C83.7 311.3 84.7 310.3 81.0 312.0C77.3 313.7 79.3 311.7 75.0 313.0C70.7 314.3 71.0 312.7 68.0 316.0C65.0 319.3 68.0 318.7 66.0 323.0C64.0 327.3 66.0 326.3 62.0 329.0C58.0 331.7 59.0 331.3 54.0 331.0C49.0 330.7 49.7 331.3 47.0 328.0C44.3 324.7 44.7 326.0 46.0 321.0C47.3 316.0 47.0 317.7 51.0 313.0C55.0 308.3 53.3 311.0 58.0 307.0C62.7 303.0 60.7 305.0 65.0 301.0C69.3 297.0 68.0 299.3 71.0 295.0C74.0 290.7 74.0 293.7 74.0 288.0C74.0 282.3 59.3 281.3 71.0 278.0Z" fill="#FFB033"/><ellipse cx="57.6" cy="318.4" rx="4.4" ry="5.0" fill="#FF8A26"/><path d="M65.0 366.0C45.7 362.0 69.0 360.7 76.0 354.0C83.0 347.3 79.7 350.7 86.0 346.0C92.3 341.3 90.3 344.3 95.0 340.0C99.7 335.7 97.3 336.7 100.0 333.0C102.7 329.3 99.7 329.7 103.0 329.0C106.3 328.3 104.3 331.0 110.0 331.0C115.7 331.0 115.5 332.0 120.0 329.0C124.5 326.0 121.9 326.7 123.6 322.0C125.3 317.3 126.1 318.7 125.0 315.0C123.9 311.3 122.6 314.3 120.4 311.0C118.2 307.7 116.9 308.7 118.4 305.0C119.9 301.3 120.5 301.3 125.0 300.0C129.5 298.7 127.7 298.7 132.0 301.0C136.3 303.3 135.0 302.7 138.0 307.0C141.0 311.3 140.7 309.7 141.0 314.0C141.3 318.3 140.5 316.8 139.0 320.0C137.5 323.2 136.7 320.9 136.4 323.6C136.1 326.3 136.5 325.1 138.0 328.0C139.5 330.9 139.8 328.4 141.0 332.4C142.2 336.4 142.3 334.8 141.6 340.0C140.9 345.2 140.9 342.7 139.0 348.0C137.1 353.3 137.7 350.0 136.0 356.0C134.3 362.0 157.7 362.7 134.0 366.0C110.3 369.3 84.3 370.0 65.0 366.0Z" fill="#FFB033"/><path d="M76.0 366.0C58.9 361.2 79.5 359.1 83.6 351.6C87.7 344.1 84.7 348.9 88.4 343.6C92.1 338.3 90.8 340.0 94.8 335.8C98.8 331.6 94.1 333.4 100.4 331.0C106.7 328.6 104.0 329.2 113.8 328.6C123.6 328.0 121.8 327.9 129.8 329.2C137.8 330.5 134.5 328.8 137.8 332.4C141.1 336.0 139.5 334.5 139.6 340.0C139.7 345.5 139.2 343.0 138.0 349.0C136.8 355.0 137.0 352.3 136.0 358.0C135.0 363.7 155.0 363.3 135.0 366.0C115.0 368.7 93.1 370.8 76.0 366.0Z" fill="#FF8A26"/><path d="M89.0 366.0C75.4 360.1 90.7 356.9 93.2 348.4C95.7 339.9 93.7 345.4 96.4 340.4C99.1 335.4 95.4 336.5 101.2 333.4C107.0 330.3 104.3 331.6 113.8 331.0C123.3 330.4 122.3 330.5 129.8 331.6C137.3 332.7 133.6 331.1 136.2 334.2C138.8 337.3 137.6 336.1 137.6 341.0C137.6 345.9 137.2 342.3 136.2 349.0C135.2 355.7 135.3 355.3 134.6 361.0C133.9 366.7 149.2 364.3 134.0 366.0C118.8 367.7 102.6 371.9 89.0 366.0Z" fill="#FF571A"/><path d="M104.2 366.0C96.5 362.8 104.2 362.3 105.8 356.4C107.4 350.5 106.3 353.7 109.0 348.4C111.7 343.1 110.3 345.1 113.8 340.4C117.3 335.7 115.3 336.7 119.4 334.2C123.5 331.7 122.0 332.7 126.0 333.0C130.0 333.3 128.5 332.5 131.4 335.0C134.3 337.5 133.8 335.9 134.6 340.4C135.4 344.9 134.9 343.1 133.8 348.4C132.7 353.7 133.0 350.5 131.4 356.4C129.8 362.3 138.1 362.8 129.0 366.0C119.9 369.2 111.9 369.2 104.2 366.0Z" fill="#F80C0C"/><path d="M177.0 278.0C184.3 274.7 193.7 274.7 202.0 278.0C210.3 281.3 200.0 282.7 202.0 288.0C204.0 293.3 205.3 289.7 208.0 294.0C210.7 298.3 210.7 296.7 210.0 301.0C209.3 305.3 209.3 305.3 206.0 307.0C202.7 308.7 203.3 308.3 200.0 306.0C196.7 303.7 198.7 303.7 196.0 300.0C193.3 296.3 196.0 297.3 192.0 295.0C188.0 292.7 188.0 295.3 184.0 293.0C180.0 290.7 182.3 293.0 180.0 288.0C177.7 283.0 169.7 281.3 177.0 278.0Z" fill="#FFB033"/><ellipse cx="195.0" cy="337.6" rx="9.7" ry="8.7" fill="#FFB033"/><ellipse cx="39.6" cy="312.0" rx="8.4" ry="9.6" fill="#0A8CC8"/><path d="M66.0 323.0C65.7 319.0 65.3 319.7 68.0 317.0C70.7 314.3 69.7 315.0 74.0 315.0C78.3 315.0 77.3 317.7 81.0 317.0C84.7 316.3 83.3 316.7 85.0 313.0C86.7 309.3 84.0 309.7 86.0 306.0C88.0 302.3 87.0 303.5 91.0 302.0C95.0 300.5 93.8 300.3 98.0 301.6C102.2 302.9 101.5 302.2 103.6 306.0C105.7 309.8 104.9 308.7 104.4 313.0C103.9 317.3 103.8 315.3 102.0 319.0C100.2 322.7 100.3 320.3 99.0 324.0C97.7 327.7 99.7 326.3 98.0 330.0C96.3 333.7 97.3 332.7 94.0 335.0C90.7 337.3 92.3 337.0 88.0 337.0C83.7 337.0 85.3 337.0 81.0 335.0C76.7 333.0 79.0 333.0 75.0 331.0C71.0 329.0 72.0 331.7 69.0 329.0C66.0 326.3 66.3 327.0 66.0 323.0Z" fill="#0A8CC8"/><ellipse cx="120.0" cy="289.0" rx="7.0" ry="8.4" fill="#3FA3B8"/><ellipse cx="143.0" cy="352.0" rx="5.6" ry="5.6" fill="#3FA3B8"/><ellipse cx="162.0" cy="279.0" rx="10.8" ry="13.6" fill="#0A8CC8"/><ellipse cx="218.4" cy="317.2" rx="12.4" ry="12.0" fill="#0A8CC8"/><ellipse cx="222.0" cy="279.0" rx="16.0" ry="12.4" fill="#0A8CC8"/><path d="M147.9 344.6C148.4 340.9 147.4 342.1 150.2 338.7C152.9 335.2 151.7 336.2 156.1 334.2C160.6 332.2 158.6 332.4 163.6 332.7C168.6 332.9 166.6 332.4 171.1 334.9C175.6 337.4 173.6 336.7 177.0 340.1C180.5 343.6 178.5 341.9 181.5 345.4C184.5 348.9 183.0 347.7 186.0 350.6C189.0 353.5 187.2 353.0 190.5 354.0C193.7 355.0 191.5 354.6 195.7 353.6C199.9 352.6 198.2 352.5 203.2 351.0C208.1 349.6 204.7 350.1 210.6 349.3C216.6 348.4 217.6 342.7 221.1 348.4C224.6 354.0 242.5 360.3 221.1 366.3C199.7 372.2 179.8 369.8 156.9 366.3C134.0 362.8 155.2 361.3 152.4 355.8C149.7 350.3 150.2 353.6 148.7 349.9C147.2 346.1 147.4 348.4 147.9 344.6Z" fill="#0A8CC8"/></g></g><g transform="translate(17.20 268.00) scale(0.9799 0.9831)"><rect x="0" y="0" width="243.5" height="100.7" fill="none" stroke="#5a5a5a" stroke-width="0.85"/><path d="M49.4 0V-1.3" stroke="#333" stroke-width="0.6"/><text class="tk" x="49.4" y="-2.7" text-anchor="middle">30°11'40"E</text><path d="M99.6 0V-1.3" stroke="#333" stroke-width="0.6"/><text class="tk" x="99.6" y="-2.7" text-anchor="middle">30°11'50"E</text><path d="M150.0 0V-1.3" stroke="#333" stroke-width="0.6"/><text class="tk" x="150.0" y="-2.7" text-anchor="middle">30°12'0"E</text><path d="M200.6 0V-1.3" stroke="#333" stroke-width="0.6"/><text class="tk" x="200.6" y="-2.7" text-anchor="middle">30°12'10"E</text><path d="M47.0 100.7V99.4" stroke="#333" stroke-width="0.6"/><text class="tk" x="47.0" y="106.5" text-anchor="middle">30°11'40"E</text><path d="M97.0 100.7V99.4" stroke="#333" stroke-width="0.6"/><text class="tk" x="97.0" y="106.5" text-anchor="middle">30°11'50"E</text><path d="M147.0 100.7V99.4" stroke="#333" stroke-width="0.6"/><text class="tk" x="147.0" y="106.5" text-anchor="middle">30°12'0"E</text><path d="M197.6 100.7V99.4" stroke="#333" stroke-width="0.6"/><text class="tk" x="197.6" y="106.5" text-anchor="middle">30°12'10"E</text><path d="M0 40.2H1.3" stroke="#333" stroke-width="0.6"/><text class="tk" transform="translate(-3.5 40.2) rotate(-90)" text-anchor="middle">30°12'0"N</text><path d="M0 98.0H1.3" stroke="#333" stroke-width="0.6"/><text class="tk" transform="translate(-3.5 98.0) rotate(-90)" text-anchor="middle">30°11'50"N</text><path d="M243.5 46.2H242.2" stroke="#333" stroke-width="0.6"/><text class="tk" transform="translate(248.5 46.2) rotate(-90)" text-anchor="middle">30°12'0"N</text><path d="M4.5 0.7L9.5 13.2" stroke="#222" stroke-width="0.5" fill="none"/><path d="M4.5 0.7L1.5 13.2" stroke="#999" stroke-width="0.4" fill="none"/><path d="M1.5 13.6Q3.5 12.4 5.5 13.1T9.5 13.4" stroke="#111" stroke-width="1" fill="none"/><text x="5.5" y="18.9" text-anchor="middle" style="font:5.4px 'Liberation Sans',sans-serif;fill:#111;stroke:#111;stroke-width:.12px">N</text><rect x="77.6" y="98.4" width="79.4" height="2.2" fill="#fff" stroke="#777" stroke-width="0.3"/><rect x="77.60" y="98.4" width="4.75" height="2.2" fill="#111"/><rect x="87.10" y="98.4" width="4.75" height="2.2" fill="#111"/><rect x="96.60" y="98.4" width="19.00" height="2.2" fill="#111"/><rect x="134.60" y="98.4" width="19.00" height="2.2" fill="#111"/><text x="77.6" y="97.6" text-anchor="middle" style="font:2.2px 'Liberation Sans',sans-serif;fill:#444">0</text><text x="87.1" y="97.6" text-anchor="middle" style="font:2.2px 'Liberation Sans',sans-serif;fill:#444">0.05</text><text x="96.6" y="97.6" text-anchor="middle" style="font:2.2px 'Liberation Sans',sans-serif;fill:#444">0.1</text><text x="115.6" y="97.6" text-anchor="middle" style="font:2.2px 'Liberation Sans',sans-serif;fill:#444">0.2</text><text x="134.6" y="97.6" text-anchor="middle" style="font:2.2px 'Liberation Sans',sans-serif;fill:#444">0.3</text><text x="153.6" y="97.6" text-anchor="middle" style="font:2.2px 'Liberation Sans',sans-serif;fill:#444">0.4</text></g><text x="219.0" y="280.7" textLength="35.0" lengthAdjust="spacingAndGlyphs" style="font:bold 3.75px 'Liberation Sans',sans-serif;fill:#222" xml:space="preserve">EC   (IDW, power 5)</text><rect x="219.0" y="283.5" width="12.0" height="5.6" fill="#0A8CC8"/><text x="233.2" y="287.8" style="font:4.15px 'Liberation Sans',sans-serif;fill:#2a2a2a;stroke:#2a2a2a;stroke-width:.1px">0.23 – 0.53</text><rect x="219.0" y="291.4" width="12.0" height="5.6" fill="#3FA3B8"/><text x="233.2" y="295.7" style="font:4.15px 'Liberation Sans',sans-serif;fill:#2a2a2a;stroke:#2a2a2a;stroke-width:.1px">0.53 – 0.66</text><rect x="219.0" y="299.3" width="12.0" height="5.6" fill="#7DBBA0"/><text x="233.2" y="303.6" style="font:4.15px 'Liberation Sans',sans-serif;fill:#2a2a2a;stroke:#2a2a2a;stroke-width:.1px">0.66 – 0.72</text><rect x="219.0" y="307.2" width="12.0" height="5.6" fill="#AECF85"/><text x="233.2" y="311.5" style="font:4.15px 'Liberation Sans',sans-serif;fill:#2a2a2a;stroke:#2a2a2a;stroke-width:.1px">0.72 – 0.85</text><rect x="219.0" y="315.1" width="12.0" height="5.6" fill="#DEE763"/><text x="233.2" y="319.4" style="font:4.15px 'Liberation Sans',sans-serif;fill:#2a2a2a;stroke:#2a2a2a;stroke-width:.1px">0.85 – 1.1</text><rect x="219.0" y="323.0" width="12.0" height="5.6" fill="#FFE144"/><text x="233.2" y="327.3" style="font:4.15px 'Liberation Sans',sans-serif;fill:#2a2a2a;stroke:#2a2a2a;stroke-width:.1px">1.1 – 1.8</text><rect x="219.0" y="330.9" width="12.0" height="5.6" fill="#FFB033"/><text x="233.2" y="335.2" style="font:4.15px 'Liberation Sans',sans-serif;fill:#2a2a2a;stroke:#2a2a2a;stroke-width:.1px">1.8 – 3.4</text><rect x="219.0" y="338.8" width="12.0" height="5.6" fill="#FF8A26"/><text x="233.2" y="343.1" style="font:4.15px 'Liberation Sans',sans-serif;fill:#2a2a2a;stroke:#2a2a2a;stroke-width:.1px">3.4 – 6.8</text><rect x="219.0" y="346.7" width="12.0" height="5.6" fill="#FF571A"/><text x="233.2" y="351.0" style="font:4.15px 'Liberation Sans',sans-serif;fill:#2a2a2a;stroke:#2a2a2a;stroke-width:.1px">6.8 – 15</text><rect x="219.0" y="354.6" width="12.0" height="5.6" fill="#F80C0C"/><text x="233.2" y="358.9" style="font:4.15px 'Liberation Sans',sans-serif;fill:#2a2a2a;stroke:#2a2a2a;stroke-width:.1px">15 – 33</text><clipPath id="cm5"><rect x="295.7" y="277.8" width="196.3" height="83.7"/></clipPath><g clip-path="url(#cm5)"><g filter="url(#bl)"><rect x="291.7" y="273.8" width="204.3" height="91.7" fill="#0A8CC8"/><path d="M294.0 282.8C298.0 283.7 298.7 284.7 306.0 285.4C313.3 286.1 309.3 285.8 316.0 285.0C322.7 284.2 319.3 284.5 326.0 283.0C332.7 281.5 329.3 281.6 336.0 280.4C342.7 279.2 339.3 279.3 346.0 279.4C352.7 279.5 349.3 278.9 356.0 280.8C362.7 282.7 359.3 282.2 366.0 285.0C372.7 287.8 369.3 287.7 376.0 289.2C382.7 290.7 379.3 289.6 386.0 289.4C392.7 289.2 389.3 289.0 396.0 288.6C402.7 288.2 399.3 287.6 406.0 288.2C412.7 288.8 409.3 288.1 416.0 290.4C422.7 292.7 419.3 292.8 426.0 295.0C432.7 297.2 429.3 296.5 436.0 297.0C442.7 297.5 439.3 296.9 446.0 296.4C452.7 295.9 449.3 295.9 456.0 295.6C462.7 295.3 460.7 294.8 466.0 295.6C471.3 296.4 468.0 295.9 472.0 298.0C476.0 300.1 473.3 299.0 478.0 302.0C482.7 305.0 481.3 304.3 486.0 307.0C490.7 309.7 488.7 308.3 492.0 310.0C495.3 311.7 494.7 311.3 496.0 312.0L496.0 366.5L294.0 366.5Z" fill="#3FA3B8"/><path d="M294.0 285.0C298.0 285.9 298.7 287.0 306.0 287.6C313.3 288.2 309.3 287.8 316.0 286.9C322.7 286.0 319.3 286.5 326.0 284.9C332.7 283.4 329.3 283.6 336.0 282.3C342.7 281.1 339.3 281.1 346.0 281.3C352.7 281.4 349.3 280.7 356.0 282.8C362.7 284.9 359.3 284.6 366.0 287.5C372.7 290.4 369.3 290.0 376.0 291.5C382.7 292.9 379.3 291.9 386.0 291.8C392.7 291.7 389.3 291.4 396.0 291.1C402.7 290.7 399.3 290.2 406.0 290.7C412.7 291.2 409.3 290.5 416.0 292.6C422.7 294.7 419.3 294.9 426.0 297.0C432.7 299.1 429.3 298.5 436.0 299.0C442.7 299.5 439.3 299.0 446.0 298.6C452.7 298.2 449.3 298.0 456.0 297.7C462.7 297.4 460.7 297.0 466.0 297.7C471.3 298.5 468.0 298.0 472.0 300.0C476.0 302.0 473.3 301.0 478.0 303.9C482.7 306.8 481.3 306.1 486.0 308.7C490.7 311.3 488.7 310.0 492.0 311.7C495.3 313.3 494.7 313.0 496.0 313.7L496.0 366.5L294.0 366.5Z" fill="#7DBBA0"/><path d="M294.0 287.2C298.0 288.1 298.7 289.2 306.0 289.8C313.3 290.4 309.3 289.8 316.0 288.9C322.7 287.9 319.3 288.4 326.0 286.9C332.7 285.3 329.3 285.5 336.0 284.3C342.7 283.0 339.3 283.0 346.0 283.1C352.7 283.3 349.3 282.5 356.0 284.8C362.7 287.1 359.3 287.0 366.0 289.9C372.7 292.9 369.3 292.3 376.0 293.7C382.7 295.2 379.3 294.3 386.0 294.2C392.7 294.1 389.3 293.9 396.0 293.5C402.7 293.2 399.3 292.7 406.0 293.1C412.7 293.6 409.3 292.8 416.0 294.8C422.7 296.8 419.3 296.9 426.0 299.0C432.7 301.1 429.3 300.4 436.0 301.0C442.7 301.6 439.3 301.2 446.0 300.8C452.7 300.4 449.3 300.2 456.0 299.9C462.7 299.6 460.7 299.2 466.0 299.9C471.3 300.6 468.0 300.0 472.0 302.0C476.0 304.0 473.3 303.0 478.0 305.7C482.7 308.5 481.3 307.8 486.0 310.3C490.7 312.9 488.7 311.7 492.0 313.3C495.3 315.0 494.7 314.7 496.0 315.3L496.0 366.5L294.0 366.5Z" fill="#AECF85"/><path d="M294.0 289.4C298.0 290.3 298.7 291.5 306.0 292.0C313.3 292.5 309.3 291.9 316.0 290.8C322.7 289.7 319.3 290.3 326.0 288.8C332.7 287.3 329.3 287.5 336.0 286.2C342.7 284.9 339.3 284.8 346.0 285.0C352.7 285.2 349.3 284.3 356.0 286.8C362.7 289.3 359.3 289.3 366.0 292.4C372.7 295.5 369.3 294.6 376.0 296.0C382.7 297.4 379.3 296.6 386.0 296.6C392.7 296.6 389.3 296.3 396.0 296.0C402.7 295.7 399.3 295.3 406.0 295.6C412.7 295.9 409.3 295.2 416.0 297.0C422.7 298.8 419.3 299.0 426.0 301.0C432.7 303.0 429.3 302.3 436.0 303.0C442.7 303.7 439.3 303.3 446.0 303.0C452.7 302.7 449.3 302.3 456.0 302.0C462.7 301.7 460.7 301.3 466.0 302.0C471.3 302.7 468.0 302.1 472.0 304.0C476.0 305.9 473.3 304.9 478.0 307.6C482.7 310.3 481.3 309.5 486.0 312.0C490.7 314.5 488.7 313.3 492.0 315.0C495.3 316.7 494.7 316.3 496.0 317.0L496.0 366.5L294.0 366.5Z" fill="#DEE763"/><path d="M294.0 297.0C298.0 297.7 298.7 298.3 306.0 299.0C313.3 299.7 309.3 299.3 316.0 299.0C322.7 298.7 319.3 299.1 326.0 298.0C332.7 296.9 330.0 296.9 336.0 295.6C342.0 294.3 339.3 294.2 344.0 294.0C348.7 293.8 346.7 293.0 350.0 295.0C353.3 297.0 351.7 296.0 354.0 300.0C356.3 304.0 354.3 303.0 357.0 307.0C359.7 311.0 357.7 309.7 362.0 312.0C366.3 314.3 364.0 314.0 370.0 314.0C376.0 314.0 373.3 314.0 380.0 312.0C386.7 310.0 383.3 310.3 390.0 308.0C396.7 305.7 394.7 306.5 400.0 305.0C405.3 303.5 400.7 303.6 406.0 303.6C411.3 303.6 409.3 303.7 416.0 305.0C422.7 306.3 419.3 306.3 426.0 307.6C432.7 308.9 429.3 308.2 436.0 309.0C442.7 309.8 439.3 309.3 446.0 310.0C452.7 310.7 449.3 310.3 456.0 311.0C462.7 311.7 459.3 311.0 466.0 312.0C472.7 313.0 469.3 312.0 476.0 314.0C482.7 316.0 480.7 315.7 486.0 318.0C491.3 320.3 488.7 319.3 492.0 321.0C495.3 322.7 494.7 322.3 496.0 323.0L496.0 366.5L294.0 366.5Z" fill="#FFE144"/><path d="M294.0 312.0C298.0 312.3 298.7 312.3 306.0 313.0C313.3 313.7 309.3 312.7 316.0 314.0C322.7 315.3 319.3 314.7 326.0 317.0C332.7 319.3 329.3 318.0 336.0 321.0C342.7 324.0 339.3 323.7 346.0 326.0C352.7 328.3 349.3 327.7 356.0 328.0C362.7 328.3 359.3 328.3 366.0 327.0C372.7 325.7 369.3 326.0 376.0 324.0C382.7 322.0 379.3 322.7 386.0 321.0C392.7 319.3 389.3 319.5 396.0 319.0C402.7 318.5 400.0 317.3 406.0 319.6C412.0 321.9 409.3 321.5 414.0 326.0C418.7 330.5 416.0 328.7 420.0 333.0C424.0 337.3 421.3 335.7 426.0 339.0C430.7 342.3 428.0 341.3 434.0 343.0C440.0 344.7 436.7 344.0 444.0 344.0C451.3 344.0 448.7 344.0 456.0 343.0C463.3 342.0 459.3 342.1 466.0 341.0C472.7 339.9 469.3 340.6 476.0 339.6C482.7 338.6 479.3 338.8 486.0 338.0C492.7 337.2 492.7 337.5 496.0 337.2L496.0 366.5L294.0 366.5Z" fill="#FFB033"/><path d="M294.0 335.0C298.0 336.0 298.7 335.8 306.0 338.0C313.3 340.2 309.3 339.3 316.0 341.6C322.7 343.9 319.3 343.2 326.0 345.0C332.7 346.8 329.3 346.1 336.0 347.0C342.7 347.9 339.3 347.9 346.0 347.6C352.7 347.3 349.3 347.7 356.0 346.0C362.7 344.3 359.3 344.7 366.0 342.4C372.7 340.1 369.3 340.8 376.0 339.0C382.7 337.2 380.0 337.3 386.0 337.0C392.0 336.7 389.3 336.5 394.0 338.0C398.7 339.5 396.3 338.3 400.0 341.6C403.7 344.9 402.0 343.5 405.0 348.0C408.0 352.5 406.7 349.7 409.0 355.0C411.3 360.3 411.0 361.0 412.0 364.0L412.0 366.5L294.0 366.5Z" fill="#FF8A26"/></g></g><g transform="translate(284.50 265.30) scale(1.0144 1.0218)"><rect x="0" y="0" width="243.5" height="100.7" fill="none" stroke="#5a5a5a" stroke-width="0.85"/><path d="M49.4 0V-1.3" stroke="#333" stroke-width="0.6"/><text class="tk" x="49.4" y="-2.7" text-anchor="middle">30°11'40"E</text><path d="M99.6 0V-1.3" stroke="#333" stroke-width="0.6"/><text class="tk" x="99.6" y="-2.7" text-anchor="middle">30°11'50"E</text><path d="M150.0 0V-1.3" stroke="#333" stroke-width="0.6"/><text class="tk" x="150.0" y="-2.7" text-anchor="middle">30°12'0"E</text><path d="M200.6 0V-1.3" stroke="#333" stroke-width="0.6"/><text class="tk" x="200.6" y="-2.7" text-anchor="middle">30°12'10"E</text><path d="M47.0 100.7V99.4" stroke="#333" stroke-width="0.6"/><text class="tk" x="47.0" y="106.5" text-anchor="middle">30°11'40"E</text><path d="M97.0 100.7V99.4" stroke="#333" stroke-width="0.6"/><text class="tk" x="97.0" y="106.5" text-anchor="middle">30°11'50"E</text><path d="M147.0 100.7V99.4" stroke="#333" stroke-width="0.6"/><text class="tk" x="147.0" y="106.5" text-anchor="middle">30°12'0"E</text><path d="M197.6 100.7V99.4" stroke="#333" stroke-width="0.6"/><text class="tk" x="197.6" y="106.5" text-anchor="middle">30°12'10"E</text><path d="M0 40.2H1.3" stroke="#333" stroke-width="0.6"/><text class="tk" transform="translate(-3.5 40.2) rotate(-90)" text-anchor="middle">30°12'0"N</text><path d="M0 98.0H1.3" stroke="#333" stroke-width="0.6"/><text class="tk" transform="translate(-3.5 98.0) rotate(-90)" text-anchor="middle">30°11'50"N</text><path d="M243.5 46.2H242.2" stroke="#333" stroke-width="0.6"/><text class="tk" transform="translate(248.5 46.2) rotate(-90)" text-anchor="middle">30°12'0"N</text><path d="M4.5 0.7L9.5 13.2" stroke="#222" stroke-width="0.5" fill="none"/><path d="M4.5 0.7L1.5 13.2" stroke="#999" stroke-width="0.4" fill="none"/><path d="M1.5 13.6Q3.5 12.4 5.5 13.1T9.5 13.4" stroke="#111" stroke-width="1" fill="none"/><text x="5.5" y="18.9" text-anchor="middle" style="font:5.4px 'Liberation Sans',sans-serif;fill:#111;stroke:#111;stroke-width:.12px">N</text><rect x="77.6" y="98.4" width="79.4" height="2.2" fill="#fff" stroke="#777" stroke-width="0.3"/><rect x="77.60" y="98.4" width="4.75" height="2.2" fill="#111"/><rect x="87.10" y="98.4" width="4.75" height="2.2" fill="#111"/><rect x="96.60" y="98.4" width="19.00" height="2.2" fill="#111"/><rect x="134.60" y="98.4" width="19.00" height="2.2" fill="#111"/><text x="77.6" y="97.6" text-anchor="middle" style="font:2.2px 'Liberation Sans',sans-serif;fill:#444">0</text><text x="87.1" y="97.6" text-anchor="middle" style="font:2.2px 'Liberation Sans',sans-serif;fill:#444">0.05</text><text x="96.6" y="97.6" text-anchor="middle" style="font:2.2px 'Liberation Sans',sans-serif;fill:#444">0.1</text><text x="115.6" y="97.6" text-anchor="middle" style="font:2.2px 'Liberation Sans',sans-serif;fill:#444">0.2</text><text x="134.6" y="97.6" text-anchor="middle" style="font:2.2px 'Liberation Sans',sans-serif;fill:#444">0.3</text><text x="153.6" y="97.6" text-anchor="middle" style="font:2.2px 'Liberation Sans',sans-serif;fill:#444">0.4</text></g><text x="494.0" y="278.7" textLength="36.0" lengthAdjust="spacingAndGlyphs" style="font:bold 3.86px 'Liberation Sans',sans-serif;fill:#222" xml:space="preserve">EC   (Kriging, First)</text><rect x="494.0" y="281.5" width="12.0" height="6.0" fill="#0A8CC8"/><text x="508.0" y="286.0" style="font:4.15px 'Liberation Sans',sans-serif;fill:#2a2a2a;stroke:#2a2a2a;stroke-width:.1px">0.23 – 0.53</text><rect x="494.0" y="289.7" width="12.0" height="6.0" fill="#3FA3B8"/><text x="508.0" y="294.2" style="font:4.15px 'Liberation Sans',sans-serif;fill:#2a2a2a;stroke:#2a2a2a;stroke-width:.1px">0.53 – 0.66</text><rect x="494.0" y="297.9" width="12.0" height="6.0" fill="#7DBBA0"/><text x="508.0" y="302.4" style="font:4.15px 'Liberation Sans',sans-serif;fill:#2a2a2a;stroke:#2a2a2a;stroke-width:.1px">0.66 – 0.72</text><rect x="494.0" y="306.1" width="12.0" height="6.0" fill="#AECF85"/><text x="508.0" y="310.6" style="font:4.15px 'Liberation Sans',sans-serif;fill:#2a2a2a;stroke:#2a2a2a;stroke-width:.1px">0.72 – 0.85</text><rect x="494.0" y="314.3" width="12.0" height="6.0" fill="#DEE763"/><text x="508.0" y="318.8" style="font:4.15px 'Liberation Sans',sans-serif;fill:#2a2a2a;stroke:#2a2a2a;stroke-width:.1px">0.85 – 1.1</text><rect x="494.0" y="322.5" width="12.0" height="6.0" fill="#FFE144"/><text x="508.0" y="327.0" style="font:4.15px 'Liberation Sans',sans-serif;fill:#2a2a2a;stroke:#2a2a2a;stroke-width:.1px">1.1 – 1.8</text><rect x="494.0" y="330.7" width="12.0" height="6.0" fill="#FFB033"/><text x="508.0" y="335.2" style="font:4.15px 'Liberation Sans',sans-serif;fill:#2a2a2a;stroke:#2a2a2a;stroke-width:.1px">1.8 – 3.4</text><rect x="494.0" y="338.9" width="12.0" height="6.0" fill="#FF8A26"/><text x="508.0" y="343.4" style="font:4.15px 'Liberation Sans',sans-serif;fill:#2a2a2a;stroke:#2a2a2a;stroke-width:.1px">3.4 – 6.8</text><rect x="494.0" y="347.1" width="12.0" height="6.0" fill="#FF571A"/><text x="508.0" y="351.6" style="font:4.15px 'Liberation Sans',sans-serif;fill:#2a2a2a;stroke:#2a2a2a;stroke-width:.1px">6.8 – 15</text><rect x="494.0" y="355.3" width="12.0" height="6.0" fill="#F80C0C"/><text x="508.0" y="359.8" style="font:4.15px 'Liberation Sans',sans-serif;fill:#2a2a2a;stroke:#2a2a2a;stroke-width:.1px">15 – 33</text><clipPath id="cm6"><rect x="27.0" y="402.5" width="191.0" height="82.0"/></clipPath><g clip-path="url(#cm6)"><g filter="url(#bl)"><rect x="23.0" y="398.5" width="199.0" height="90.0" fill="#DEE763"/><path d="M86.0 400.0C42.0 400.9 83.3 400.7 87.0 402.6C90.7 404.5 90.3 403.8 97.0 405.6C103.7 407.4 100.3 406.5 107.0 408.0C113.7 409.5 110.3 408.9 117.0 410.0C123.7 411.1 119.7 410.8 127.0 411.4C134.3 412.0 127.3 412.1 139.0 411.8C150.7 411.5 149.0 410.7 162.0 410.4C175.0 410.1 168.0 411.0 178.0 411.0C188.0 411.0 184.0 411.1 192.0 410.4C200.0 409.7 195.3 410.1 202.0 409.0C208.7 407.9 206.3 408.3 212.0 407.0C217.7 405.7 216.7 407.3 219.0 405.0C221.3 402.7 263.3 401.7 219.0 400.0C174.7 398.3 130.0 399.1 86.0 400.0Z" fill="#FFE144"/><path d="M123.0 402.0L131.0 403.6L147.0 404.4L219.0 404.4L219.0 400.0L123.0 400.0Z" fill="#FFB033"/><path d="M25.0 433.6C29.7 433.4 30.3 433.7 39.0 433.0C47.7 432.3 43.0 432.7 51.0 431.6C59.0 430.5 55.0 430.3 63.0 429.6C71.0 428.9 67.0 429.1 75.0 429.6C83.0 430.1 79.7 430.2 87.0 431.0C94.3 431.8 90.3 431.3 97.0 432.0C103.7 432.7 102.0 432.5 107.0 433.0C112.0 433.5 107.0 433.2 112.0 433.4C117.0 433.6 115.3 433.1 122.0 433.6C128.7 434.1 126.7 433.5 132.0 435.0C137.3 436.5 134.0 435.3 138.0 438.0C142.0 440.7 139.7 439.3 144.0 443.0C148.3 446.7 146.3 444.7 151.0 449.0C155.7 453.3 153.0 451.7 158.0 456.0C163.0 460.3 160.0 458.3 166.0 462.0C172.0 465.7 169.3 463.7 176.0 467.0C182.7 470.3 180.0 468.7 186.0 472.0C192.0 475.3 188.7 473.7 194.0 477.0C199.3 480.3 197.3 478.3 202.0 482.0C206.7 485.7 206.0 486.0 208.0 488.0L208.0 489.5L25.0 489.5Z" fill="#FFE144"/><path d="M25.0 439.6C32.3 439.2 33.0 438.6 47.0 438.4C61.0 438.2 53.7 438.3 67.0 439.0C80.3 439.7 73.7 439.7 87.0 440.4C100.3 441.1 98.7 440.8 107.0 441.0C115.3 441.2 107.0 440.8 112.0 441.0C117.0 441.2 115.3 440.6 122.0 441.6C128.7 442.6 126.0 441.9 132.0 444.0C138.0 446.1 134.7 444.5 140.0 448.0C145.3 451.5 142.7 450.1 148.0 454.4C153.3 458.7 150.7 457.1 156.0 461.0C161.3 464.9 158.0 462.7 164.0 466.0C170.0 469.3 167.3 467.7 174.0 471.0C180.7 474.3 178.0 472.7 184.0 476.0C190.0 479.3 187.0 477.0 192.0 481.0C197.0 485.0 196.7 485.7 199.0 488.0L199.0 489.5L25.0 489.5Z" fill="#FFB033"/><path d="M25.0 447.6C32.3 447.4 33.0 446.5 47.0 447.0C61.0 447.5 53.7 447.7 67.0 449.0C80.3 450.3 73.7 450.2 87.0 451.0C100.3 451.8 98.7 451.2 107.0 451.4C115.3 451.6 107.0 451.4 112.0 451.6C117.0 451.8 116.0 451.1 122.0 452.0C128.0 452.9 124.7 451.7 130.0 454.4C135.3 457.1 132.7 456.1 138.0 460.0C143.3 463.9 140.7 462.3 146.0 466.0C151.3 469.7 148.7 468.0 154.0 471.0C159.3 474.0 156.0 472.3 162.0 475.0C168.0 477.7 166.0 476.7 172.0 479.0C178.0 481.3 174.7 479.0 180.0 482.0C185.3 485.0 185.3 486.0 188.0 488.0L188.0 489.5L25.0 489.5Z" fill="#FF8A26"/><path d="M25.0 460.0C32.3 460.3 33.0 459.8 47.0 461.0C61.0 462.2 53.7 462.2 67.0 463.6C80.3 465.0 73.7 464.7 87.0 465.2C100.3 465.7 98.7 465.1 107.0 465.0C115.3 464.9 107.7 464.8 112.0 465.0C116.3 465.2 114.7 464.3 120.0 465.6C125.3 466.9 122.7 465.9 128.0 469.0C133.3 472.1 130.7 471.3 136.0 475.0C141.3 478.7 138.7 477.3 144.0 480.0C149.3 482.7 146.7 480.3 152.0 483.0C157.3 485.7 157.3 486.3 160.0 488.0L160.0 489.5L25.0 489.5Z" fill="#FF571A"/><path d="M25.0 481.4C28.3 482.1 27.7 482.5 35.0 483.4C42.3 484.3 29.7 483.8 47.0 484.2C64.3 484.6 61.7 484.3 87.0 484.6C112.3 484.9 109.7 484.1 123.0 485.2C136.3 486.3 125.7 487.1 127.0 488.0L127.0 489.5L25.0 489.5Z" fill="#F80C0C"/><path d="M13.0 433.2C17.7 448.1 19.0 433.2 27.0 432.8C35.0 432.4 29.7 432.8 37.0 432.0C44.3 431.2 41.0 432.1 49.0 430.4C57.0 428.7 53.3 429.5 61.0 427.0C68.7 424.5 65.3 426.0 72.0 423.0C78.7 420.0 76.5 421.7 81.0 418.0C85.5 414.3 84.1 418.0 85.4 412.0C86.7 406.0 85.3 408.0 85.0 400.0C84.7 392.0 108.6 392.0 84.6 388.0C60.6 384.0 36.9 372.9 13.0 388.0C-10.9 403.1 8.3 418.3 13.0 433.2Z" fill="#AECF85"/><path d="M13.0 432.4C17.7 447.1 19.0 432.5 27.0 432.0C35.0 431.5 30.0 432.0 37.0 431.0C44.0 430.0 40.7 430.9 48.0 429.0C55.3 427.1 52.0 428.1 59.0 425.4C66.0 422.7 63.1 424.3 69.0 421.0C74.9 417.7 72.8 419.3 76.6 415.6C80.4 411.9 79.2 415.2 80.4 410.0C81.6 404.8 80.4 407.3 80.2 400.0C80.0 392.7 102.2 392.0 79.8 388.0C57.4 384.0 35.3 373.2 13.0 388.0C-9.3 402.8 8.3 417.7 13.0 432.4Z" fill="#7DBBA0"/><path d="M13.0 431.6C17.7 446.0 19.0 431.7 27.0 431.2C35.0 430.7 30.2 431.2 37.0 430.0C43.8 428.8 40.4 429.7 47.4 427.6C54.4 425.5 51.5 426.5 58.0 423.6C64.5 420.7 62.0 422.5 67.0 419.0C72.0 415.5 70.0 417.2 73.0 413.2C76.0 409.2 74.9 411.4 76.0 407.0C77.1 402.6 76.1 406.3 76.2 400.0C76.3 393.7 97.3 392.0 76.2 388.0C55.1 384.0 34.1 373.5 13.0 388.0C-8.1 402.5 8.3 417.2 13.0 431.6Z" fill="#3FA3B8"/><path d="M13.0 430.6C17.7 444.7 19.0 430.7 27.0 430.2C35.0 429.7 30.3 430.3 37.0 429.0C43.7 427.7 40.3 428.7 47.0 426.4C53.7 424.1 51.0 425.1 57.0 422.0C63.0 418.9 60.7 420.7 65.0 417.0C69.3 413.3 67.7 415.0 70.0 411.0C72.3 407.0 71.3 408.7 72.0 405.0C72.7 401.3 72.1 405.7 72.2 400.0C72.3 394.3 91.9 392.0 72.2 388.0C52.5 384.0 32.7 373.8 13.0 388.0C-6.7 402.2 8.3 416.5 13.0 430.6Z" fill="#0A8CC8"/><path d="M220.0 404.4C212.7 406.4 212.7 406.8 202.0 409.0C191.3 411.2 198.0 410.1 188.0 411.0C178.0 411.9 182.0 411.0 172.0 411.8C162.0 412.6 166.0 411.9 158.0 413.4C150.0 414.9 153.7 413.9 148.0 416.4C142.3 418.9 144.0 418.1 141.0 421.0C138.0 423.9 138.7 422.0 139.0 425.0C139.3 428.0 139.3 426.7 142.0 430.0C144.7 433.3 143.7 431.3 147.0 435.0C150.3 438.7 148.7 436.7 152.0 441.0C155.3 445.3 153.3 443.5 157.0 448.0C160.7 452.5 158.3 450.3 163.0 454.4C167.7 458.5 165.3 456.9 171.0 460.4C176.7 463.9 173.7 461.8 180.0 465.0C186.3 468.2 184.0 466.7 190.0 470.0C196.0 473.3 192.7 471.3 198.0 475.0C203.3 478.7 201.5 476.7 206.0 481.0C210.5 485.3 205.4 485.7 211.4 488.0C217.4 490.3 219.8 516.3 224.0 488.0C228.2 459.7 225.3 430.9 224.0 403.0C222.7 375.1 227.3 402.4 220.0 404.4Z" fill="#AECF85"/><path d="M220.0 404.8C214.7 406.3 215.3 406.4 208.0 408.2C200.7 410.0 204.7 409.1 198.0 410.2C191.3 411.3 195.3 410.9 188.0 411.6C180.7 412.3 184.7 411.6 176.0 412.2C167.3 412.8 170.3 412.1 162.0 413.4C153.7 414.7 156.8 413.7 151.0 416.0C145.2 418.3 147.2 417.3 144.6 420.4C142.0 423.5 142.7 421.7 143.2 425.4C143.7 429.1 143.4 427.4 146.0 431.6C148.6 435.8 147.5 433.7 151.0 438.0C154.5 442.3 152.7 440.1 156.4 444.4C160.1 448.7 157.8 446.6 162.0 451.0C166.2 455.4 164.0 453.6 169.0 457.6C174.0 461.6 171.3 459.7 177.0 463.0C182.7 466.3 180.2 464.4 186.0 467.6C191.8 470.8 188.9 468.9 194.4 472.6C199.9 476.3 197.5 474.9 202.4 478.6C207.3 482.3 205.3 480.5 209.0 483.6C212.7 486.7 208.6 486.5 213.6 488.0C218.6 489.5 220.5 516.1 224.0 488.0C227.5 459.9 225.3 431.3 224.0 403.6C222.7 375.9 225.3 403.3 220.0 404.8Z" fill="#7DBBA0"/><path d="M220.0 405.2C214.7 406.8 215.3 406.9 208.0 408.8C200.7 410.7 204.7 409.8 198.0 411.0C191.3 412.2 195.3 411.7 188.0 412.4C180.7 413.1 184.3 412.5 176.0 413.0C167.7 413.5 170.7 412.7 163.0 414.0C155.3 415.3 158.0 414.5 153.0 416.8C148.0 419.1 150.2 418.1 148.0 421.0C145.8 423.9 146.1 422.1 146.4 425.6C146.7 429.1 146.6 427.6 149.0 431.6C151.4 435.6 150.1 433.1 153.6 437.6C157.1 442.1 155.5 440.2 159.6 445.0C163.7 449.8 161.5 447.7 166.0 452.0C170.5 456.3 168.0 454.3 173.0 458.0C178.0 461.7 175.7 459.9 181.0 463.0C186.3 466.1 183.7 464.1 189.0 467.2C194.3 470.3 191.7 468.5 197.0 472.2C202.3 475.9 200.3 474.5 205.0 478.2C209.7 481.9 207.5 479.9 211.0 483.2C214.5 486.5 211.3 486.4 215.6 488.0C219.9 489.6 221.2 516.0 224.0 488.0C226.8 460.0 225.3 431.6 224.0 404.0C222.7 376.4 225.3 403.6 220.0 405.2Z" fill="#3FA3B8"/><path d="M220.0 405.6C214.7 407.5 215.3 407.5 208.0 409.6C200.7 411.7 204.7 410.7 198.0 412.0C191.3 413.3 195.3 412.9 188.0 413.6C180.7 414.3 183.7 413.5 176.0 414.0C168.3 414.5 172.0 413.9 165.0 415.2C158.0 416.5 159.9 415.7 155.0 418.0C150.1 420.3 152.2 419.5 150.4 422.0C148.6 424.5 149.1 422.7 149.6 425.6C150.1 428.5 149.5 427.0 152.0 430.6C154.5 434.2 153.3 431.9 157.0 436.4C160.7 440.9 159.7 439.1 163.0 444.0C166.3 448.9 163.3 446.7 167.0 451.0C170.7 455.3 169.0 453.3 174.0 457.0C179.0 460.7 176.7 459.0 182.0 462.0C187.3 465.0 184.7 463.0 190.0 466.0C195.3 469.0 192.7 467.3 198.0 471.0C203.3 474.7 201.3 473.3 206.0 477.0C210.7 480.7 208.3 478.3 212.0 482.0C215.7 485.7 213.0 486.0 217.0 488.0C221.0 490.0 221.7 516.0 224.0 488.0C226.3 460.0 225.3 431.5 224.0 404.0C222.7 376.5 225.3 403.7 220.0 405.6Z" fill="#0A8CC8"/></g></g><g transform="translate(16.20 390.70) scale(0.9869 0.9960)"><rect x="0" y="0" width="243.5" height="100.7" fill="none" stroke="#5a5a5a" stroke-width="0.85"/><path d="M49.4 0V-1.3" stroke="#333" stroke-width="0.6"/><text class="tk" x="49.4" y="-2.7" text-anchor="middle">30°11'40"E</text><path d="M99.6 0V-1.3" stroke="#333" stroke-width="0.6"/><text class="tk" x="99.6" y="-2.7" text-anchor="middle">30°11'50"E</text><path d="M150.0 0V-1.3" stroke="#333" stroke-width="0.6"/><text class="tk" x="150.0" y="-2.7" text-anchor="middle">30°12'0"E</text><path d="M200.6 0V-1.3" stroke="#333" stroke-width="0.6"/><text class="tk" x="200.6" y="-2.7" text-anchor="middle">30°12'10"E</text><path d="M47.0 100.7V99.4" stroke="#333" stroke-width="0.6"/><text class="tk" x="47.0" y="106.5" text-anchor="middle">30°11'40"E</text><path d="M97.0 100.7V99.4" stroke="#333" stroke-width="0.6"/><text class="tk" x="97.0" y="106.5" text-anchor="middle">30°11'50"E</text><path d="M147.0 100.7V99.4" stroke="#333" stroke-width="0.6"/><text class="tk" x="147.0" y="106.5" text-anchor="middle">30°12'0"E</text><path d="M197.6 100.7V99.4" stroke="#333" stroke-width="0.6"/><text class="tk" x="197.6" y="106.5" text-anchor="middle">30°12'10"E</text><path d="M0 40.2H1.3" stroke="#333" stroke-width="0.6"/><text class="tk" transform="translate(-3.5 40.2) rotate(-90)" text-anchor="middle">30°12'0"N</text><path d="M0 98.0H1.3" stroke="#333" stroke-width="0.6"/><text class="tk" transform="translate(-3.5 98.0) rotate(-90)" text-anchor="middle">30°11'50"N</text><path d="M243.5 46.2H242.2" stroke="#333" stroke-width="0.6"/><text class="tk" transform="translate(248.5 46.2) rotate(-90)" text-anchor="middle">30°12'0"N</text><path d="M4.5 0.7L9.5 13.2" stroke="#222" stroke-width="0.5" fill="none"/><path d="M4.5 0.7L1.5 13.2" stroke="#999" stroke-width="0.4" fill="none"/><path d="M1.5 13.6Q3.5 12.4 5.5 13.1T9.5 13.4" stroke="#111" stroke-width="1" fill="none"/><text x="5.5" y="18.9" text-anchor="middle" style="font:5.4px 'Liberation Sans',sans-serif;fill:#111;stroke:#111;stroke-width:.12px">N</text><rect x="77.6" y="98.4" width="79.4" height="2.2" fill="#fff" stroke="#777" stroke-width="0.3"/><rect x="77.60" y="98.4" width="4.75" height="2.2" fill="#111"/><rect x="87.10" y="98.4" width="4.75" height="2.2" fill="#111"/><rect x="96.60" y="98.4" width="19.00" height="2.2" fill="#111"/><rect x="134.60" y="98.4" width="19.00" height="2.2" fill="#111"/><text x="77.6" y="97.6" text-anchor="middle" style="font:2.2px 'Liberation Sans',sans-serif;fill:#444">0</text><text x="87.1" y="97.6" text-anchor="middle" style="font:2.2px 'Liberation Sans',sans-serif;fill:#444">0.05</text><text x="96.6" y="97.6" text-anchor="middle" style="font:2.2px 'Liberation Sans',sans-serif;fill:#444">0.1</text><text x="115.6" y="97.6" text-anchor="middle" style="font:2.2px 'Liberation Sans',sans-serif;fill:#444">0.2</text><text x="134.6" y="97.6" text-anchor="middle" style="font:2.2px 'Liberation Sans',sans-serif;fill:#444">0.3</text><text x="153.6" y="97.6" text-anchor="middle" style="font:2.2px 'Liberation Sans',sans-serif;fill:#444">0.4</text></g><text x="215.5" y="400.4" textLength="40.0" lengthAdjust="spacingAndGlyphs" style="font:bold 3.70px 'Liberation Sans',sans-serif;fill:#222" xml:space="preserve">EC   (Kriging, Second)</text><rect x="220.0" y="406.5" width="11.5" height="5.4" fill="#0A8CC8"/><text x="233.5" y="410.7" style="font:4.15px 'Liberation Sans',sans-serif;fill:#2a2a2a;stroke:#2a2a2a;stroke-width:.1px">0.23 – 0.53</text><rect x="220.0" y="414.5" width="11.5" height="5.4" fill="#3FA3B8"/><text x="233.5" y="418.7" style="font:4.15px 'Liberation Sans',sans-serif;fill:#2a2a2a;stroke:#2a2a2a;stroke-width:.1px">0.53 – 0.66</text><rect x="220.0" y="422.5" width="11.5" height="5.4" fill="#7DBBA0"/><text x="233.5" y="426.7" style="font:4.15px 'Liberation Sans',sans-serif;fill:#2a2a2a;stroke:#2a2a2a;stroke-width:.1px">0.66 – 0.72</text><rect x="220.0" y="430.5" width="11.5" height="5.4" fill="#AECF85"/><text x="233.5" y="434.7" style="font:4.15px 'Liberation Sans',sans-serif;fill:#2a2a2a;stroke:#2a2a2a;stroke-width:.1px">0.72 – 0.85</text><rect x="220.0" y="438.5" width="11.5" height="5.4" fill="#DEE763"/><text x="233.5" y="442.7" style="font:4.15px 'Liberation Sans',sans-serif;fill:#2a2a2a;stroke:#2a2a2a;stroke-width:.1px">0.85 – 1.1</text><rect x="220.0" y="446.5" width="11.5" height="5.4" fill="#FFE144"/><text x="233.5" y="450.7" style="font:4.15px 'Liberation Sans',sans-serif;fill:#2a2a2a;stroke:#2a2a2a;stroke-width:.1px">1.1 – 1.8</text><rect x="220.0" y="454.5" width="11.5" height="5.4" fill="#FFB033"/><text x="233.5" y="458.7" style="font:4.15px 'Liberation Sans',sans-serif;fill:#2a2a2a;stroke:#2a2a2a;stroke-width:.1px">1.8 – 3.4</text><rect x="220.0" y="462.5" width="11.5" height="5.4" fill="#FF8A26"/><text x="233.5" y="466.7" style="font:4.15px 'Liberation Sans',sans-serif;fill:#2a2a2a;stroke:#2a2a2a;stroke-width:.1px">3.4 – 6.8</text><rect x="220.0" y="470.5" width="11.5" height="5.4" fill="#FF571A"/><text x="233.5" y="474.7" style="font:4.15px 'Liberation Sans',sans-serif;fill:#2a2a2a;stroke:#2a2a2a;stroke-width:.1px">6.8 – 15</text><rect x="220.0" y="478.5" width="11.5" height="5.4" fill="#F80C0C"/><text x="233.5" y="482.7" style="font:4.15px 'Liberation Sans',sans-serif;fill:#2a2a2a;stroke:#2a2a2a;stroke-width:.1px">15 – 33</text><clipPath id="cm7"><rect x="295.8" y="402.8" width="199.0" height="82.7"/></clipPath><g clip-path="url(#cm7)"><g filter="url(#bl)"><rect x="291.8" y="398.8" width="207.0" height="90.7" fill="#DEE763"/><path d="M256.0 386.0C306.7 377.8 362.7 381.3 408.0 386.0C453.3 390.7 397.5 394.4 392.0 400.0C386.5 405.6 392.1 401.1 391.4 402.8C390.7 404.5 392.3 403.5 389.8 405.0C387.3 406.5 388.9 406.1 384.0 407.2C379.1 408.3 381.0 407.7 375.0 408.2C369.0 408.7 372.3 408.5 366.0 408.8C359.7 409.1 366.0 408.9 356.0 409.2C346.0 409.5 349.3 409.5 336.0 409.8C322.7 410.1 333.3 409.9 316.0 410.2C298.7 410.5 304.0 410.5 284.0 410.6C264.0 410.7 265.3 418.8 256.0 410.6C246.7 402.4 205.3 394.2 256.0 386.0Z" fill="#FFE144"/><path d="M256.0 386.0C297.3 379.1 343.7 381.3 380.0 386.0C416.3 390.7 371.3 394.3 365.0 400.0C358.7 405.7 364.7 401.7 361.0 403.2C357.3 404.7 359.3 403.7 354.0 404.4C348.7 405.1 351.0 404.8 345.0 405.2C339.0 405.6 345.7 405.3 336.0 405.6C326.3 405.9 333.3 405.8 316.0 406.2C298.7 406.6 304.0 406.6 284.0 406.8C264.0 407.0 265.3 413.7 256.0 406.8C246.7 399.9 214.7 392.9 256.0 386.0Z" fill="#FFB033"/><path d="M418.2 417.6C418.5 415.1 417.7 416.1 421.2 414.0C424.7 411.9 423.1 412.7 428.6 411.2C434.1 409.7 431.1 410.5 437.6 409.6C444.1 408.7 438.5 409.3 448.0 408.4C457.5 407.5 449.3 407.7 466.0 406.8C482.7 405.9 478.0 406.0 498.0 405.6C518.0 405.2 516.7 395.8 526.0 405.6C535.3 415.4 535.3 425.4 526.0 435.0C516.7 444.6 512.7 435.4 498.0 434.4C483.3 433.4 492.7 433.5 482.0 432.0C471.3 430.5 477.3 431.1 466.0 430.0C454.7 428.9 456.5 429.4 448.0 428.8C439.5 428.2 445.5 428.9 440.6 428.2C435.7 427.5 438.2 427.9 433.2 426.6C428.2 425.3 429.9 426.1 425.6 424.4C421.3 422.7 422.9 423.7 420.4 421.4C417.9 419.1 417.9 420.1 418.2 417.6Z" fill="#FFE144"/><ellipse cx="496.0" cy="419.6" rx="30.0" ry="8.6" fill="#FFB033"/><path d="M421.9 398.7L425.2 403.0L436.8 403.8L461.5 404.6L497.8 405.6L497.8 398.7Z" fill="#0A8CC8"/><path d="M294.0 442.6C304.7 442.2 306.7 442.3 326.0 441.4C345.3 440.5 336.7 440.7 352.0 440.0C367.3 439.3 360.7 439.3 372.0 439.2C383.3 439.1 378.0 439.3 386.0 439.6C394.0 439.9 389.3 439.5 396.0 440.0C402.7 440.5 399.3 440.0 406.0 441.0C412.7 442.0 410.0 441.0 416.0 443.0C422.0 445.0 418.7 443.3 424.0 447.0C429.3 450.7 426.7 449.0 432.0 454.0C437.3 459.0 434.7 456.7 440.0 462.0C445.3 467.3 443.0 464.7 448.0 470.0C453.0 475.3 450.3 472.0 455.0 478.0C459.7 484.0 459.7 484.7 462.0 488.0L462.0 490.5L294.0 490.5Z" fill="#FFE144"/><path d="M294.0 447.0C301.3 446.3 302.0 446.0 316.0 445.0C330.0 444.0 322.7 444.3 336.0 444.0C349.3 443.7 342.7 443.9 356.0 444.0C369.3 444.1 366.0 444.1 376.0 444.4C386.0 444.7 379.3 444.5 386.0 445.0C392.7 445.5 389.3 445.1 396.0 446.0C402.7 446.9 399.3 445.9 406.0 447.6C412.7 449.3 409.3 447.9 416.0 451.0C422.7 454.1 419.3 452.3 426.0 457.0C432.7 461.7 430.0 459.7 436.0 465.0C442.0 470.3 439.3 468.0 444.0 473.0C448.7 478.0 446.3 475.0 450.0 480.0C453.7 485.0 453.3 485.3 455.0 488.0L455.0 490.5L294.0 490.5Z" fill="#FFB033"/><path d="M294.0 454.4C301.3 453.6 302.0 453.3 316.0 452.0C330.0 450.7 322.7 450.9 336.0 450.4C349.3 449.9 342.7 450.0 356.0 450.4C369.3 450.8 366.0 450.7 376.0 451.6C386.0 452.5 379.3 452.1 386.0 453.0C392.7 453.9 389.3 453.3 396.0 454.4C402.7 455.5 399.3 454.2 406.0 456.4C412.7 458.6 409.3 457.5 416.0 461.0C422.7 464.5 419.3 462.3 426.0 467.0C432.7 471.7 430.3 470.0 436.0 475.0C441.7 480.0 439.3 477.7 443.0 482.0C446.7 486.3 445.7 486.0 447.0 488.0L447.0 490.5L294.0 490.5Z" fill="#FF8A26"/><path d="M294.0 456.4C301.3 456.3 302.0 456.0 316.0 456.0C330.0 456.0 322.7 455.7 336.0 456.4C349.3 457.1 342.7 456.7 356.0 458.0C369.3 459.3 366.0 459.1 376.0 460.4C386.0 461.7 379.3 460.8 386.0 462.0C392.7 463.2 389.3 462.5 396.0 464.0C402.7 465.5 399.3 464.3 406.0 466.6C412.7 468.9 409.3 467.3 416.0 471.0C422.7 474.7 419.7 471.9 426.0 477.6C432.3 483.3 432.0 484.5 435.0 488.0L435.0 490.5L294.0 490.5Z" fill="#FF571A"/><path d="M294.0 464.0C301.3 464.1 302.0 463.9 316.0 464.4C330.0 464.9 322.7 464.3 336.0 465.6C349.3 466.9 342.7 466.1 356.0 468.4C369.3 470.7 366.0 470.4 376.0 472.4C386.0 474.4 379.3 472.9 386.0 474.4C392.7 475.9 389.3 475.1 396.0 477.0C402.7 478.9 400.0 476.3 406.0 480.0C412.0 483.7 411.3 485.3 414.0 488.0L414.0 490.5L294.0 490.5Z" fill="#F80C0C"/><path d="M256.0 410.8C265.3 400.3 265.3 410.7 284.0 410.8C302.7 410.9 294.7 410.9 312.0 411.0C329.3 411.1 321.3 410.8 336.0 411.2C350.7 411.6 346.0 411.5 356.0 412.2C366.0 412.9 358.7 412.6 366.0 413.2C373.3 413.8 370.5 413.0 378.0 414.0C385.5 415.0 381.5 414.0 388.4 416.2C395.3 418.4 392.3 417.1 398.8 420.6C405.3 424.1 402.3 422.3 407.8 426.6C413.3 430.9 415.2 430.4 415.2 433.4C415.2 436.4 414.3 434.5 407.8 435.6C401.3 436.7 404.7 435.9 395.8 436.6C386.9 437.3 390.9 437.0 381.0 437.8C371.1 438.6 375.7 438.4 366.0 439.0C356.3 439.6 365.3 439.0 352.0 439.6C338.7 440.2 348.7 439.9 326.0 440.8C303.3 441.7 307.3 441.7 284.0 442.2C260.7 442.7 265.3 452.9 256.0 442.4C246.7 431.9 246.7 421.3 256.0 410.8Z" fill="#AECF85"/><path d="M256.0 411.0C265.3 400.6 265.3 410.9 284.0 411.0C302.7 411.1 294.7 411.0 312.0 411.2C329.3 411.4 322.0 411.1 336.0 411.6C350.0 412.1 344.0 411.9 354.0 412.6C364.0 413.3 358.7 413.1 366.0 413.8C373.3 414.5 369.3 413.7 376.0 414.8C382.7 415.9 379.7 414.9 386.0 417.2C392.3 419.5 390.3 418.5 395.0 421.6C399.7 424.7 397.8 423.6 400.0 426.4C402.2 429.2 402.6 427.7 401.6 430.0C400.6 432.3 401.5 431.4 397.0 433.2C392.5 435.0 395.0 434.1 388.0 435.4C381.0 436.7 383.3 436.1 376.0 437.0C368.7 437.9 374.0 437.3 366.0 438.0C358.0 438.7 365.3 438.2 352.0 439.0C338.7 439.8 348.7 439.4 326.0 440.4C303.3 441.4 307.3 441.4 284.0 442.0C260.7 442.6 265.3 452.5 256.0 442.2C246.7 431.9 246.7 421.4 256.0 411.0Z" fill="#7DBBA0"/><path d="M256.0 411.2C265.3 400.9 265.3 411.1 284.0 411.2C302.7 411.3 294.7 411.1 312.0 411.4C329.3 411.7 322.3 411.4 336.0 412.0C349.7 412.6 343.0 412.3 353.0 413.2C363.0 414.1 358.7 413.7 366.0 414.6C373.3 415.5 369.0 414.5 375.0 415.8C381.0 417.1 378.5 416.1 384.0 418.4C389.5 420.7 387.9 419.5 391.4 422.8C394.9 426.1 394.4 425.2 394.4 428.2C394.4 431.2 395.4 429.6 391.4 431.8C387.4 434.0 390.9 433.0 382.4 434.8C373.9 436.6 376.1 436.0 366.0 437.2C355.9 438.4 365.3 437.5 352.0 438.4C338.7 439.3 348.7 438.9 326.0 440.0C303.3 441.1 307.3 441.1 284.0 441.8C260.7 442.5 265.3 452.2 256.0 442.0C246.7 431.8 246.7 421.5 256.0 411.2Z" fill="#3FA3B8"/><path d="M256.0 411.2C265.3 401.0 264.0 411.1 284.0 411.2C304.0 411.3 298.7 411.2 316.0 411.6C333.3 412.0 324.0 411.6 336.0 412.4C348.0 413.2 342.0 412.5 352.0 414.0C362.0 415.5 358.9 415.5 366.0 417.0C373.1 418.5 368.4 416.9 373.4 418.4C378.4 419.9 376.7 418.7 381.0 421.4C385.3 424.1 385.7 423.4 386.2 426.6C386.7 429.8 386.1 428.5 382.4 431.0C378.7 433.5 380.5 432.3 375.0 434.0C369.5 435.7 373.7 434.7 366.0 436.0C358.3 437.3 362.0 436.8 352.0 438.0C342.0 439.2 348.0 438.7 336.0 439.6C324.0 440.5 333.3 439.9 316.0 440.6C298.7 441.3 304.0 441.2 284.0 441.6C264.0 442.0 265.3 451.9 256.0 441.8C246.7 431.7 246.7 421.4 256.0 411.2Z" fill="#0A8CC8"/><path d="M546.0 435.0C539.3 412.7 542.0 435.0 526.0 435.0C510.0 435.0 514.7 435.0 498.0 435.0C481.3 435.0 490.0 434.8 476.0 435.0C462.0 435.2 468.7 435.3 456.0 435.6C443.3 435.9 448.7 435.3 438.0 436.0C427.3 436.7 427.0 435.6 424.0 437.6C421.0 439.6 425.0 437.9 429.0 442.0C433.0 446.1 431.7 445.0 436.0 450.0C440.3 455.0 438.0 452.7 442.0 457.0C446.0 461.3 443.7 458.7 448.0 463.0C452.3 467.3 450.7 465.3 455.0 470.0C459.3 474.7 456.7 471.0 461.0 477.0C465.3 483.0 463.0 479.7 468.0 488.0C473.0 496.3 450.0 497.3 476.0 502.0C502.0 506.7 522.7 524.3 546.0 502.0C569.3 479.7 552.7 457.3 546.0 435.0Z" fill="#AECF85"/><path d="M546.0 435.4C539.3 413.2 542.0 435.4 526.0 435.4C510.0 435.4 514.7 435.3 498.0 435.4C481.3 435.5 490.0 435.3 476.0 435.6C462.0 435.9 468.0 435.8 456.0 436.4C444.0 437.0 448.8 436.3 440.0 437.4C431.2 438.5 431.7 437.4 429.6 439.6C427.5 441.8 430.5 440.2 433.6 444.0C436.7 447.8 435.4 446.5 439.0 451.0C442.6 455.5 440.7 453.4 444.4 457.6C448.1 461.8 445.9 459.3 450.0 463.6C454.1 467.9 452.4 465.9 456.6 470.6C460.8 475.3 458.5 471.8 462.6 477.6C466.7 483.4 464.2 479.9 469.0 488.0C473.8 496.1 451.3 497.3 477.0 502.0C502.7 506.7 523.0 524.2 546.0 502.0C569.0 479.8 552.7 457.6 546.0 435.4Z" fill="#7DBBA0"/><path d="M546.0 435.8C539.3 413.7 542.0 435.8 526.0 435.8C510.0 435.8 514.7 435.7 498.0 435.8C481.3 435.9 489.3 435.6 476.0 436.0C462.7 436.4 468.7 436.1 458.0 437.0C447.3 437.9 451.7 437.3 444.0 438.8C436.3 440.3 437.1 439.1 435.0 441.6C432.9 444.1 435.4 442.8 437.6 446.4C439.8 450.0 438.7 448.3 441.6 452.4C444.5 456.5 442.9 454.5 446.4 458.6C449.9 462.7 448.0 460.3 452.0 464.6C456.0 468.9 454.3 466.8 458.4 471.4C462.5 476.0 460.5 472.9 464.4 478.4C468.3 483.9 465.5 480.1 470.0 488.0C474.5 495.9 452.7 497.3 478.0 502.0C503.3 506.7 523.3 524.1 546.0 502.0C568.7 479.9 552.7 457.9 546.0 435.8Z" fill="#3FA3B8"/><path d="M546.0 436.0C539.3 414.0 542.0 436.0 526.0 436.0C510.0 436.0 514.7 435.9 498.0 436.0C481.3 436.1 488.0 435.9 476.0 436.4C464.0 436.9 470.7 436.5 462.0 437.6C453.3 438.7 456.7 437.8 450.0 439.6C443.3 441.4 445.3 440.2 442.0 443.0C438.7 445.8 439.7 444.3 440.0 448.0C440.3 451.7 440.3 450.0 443.0 454.0C445.7 458.0 444.3 456.0 448.0 460.0C451.7 464.0 450.0 462.0 454.0 466.0C458.0 470.0 456.0 467.7 460.0 472.0C464.0 476.3 462.1 473.7 466.0 479.0C469.9 484.3 467.1 480.3 471.6 488.0C476.1 495.7 454.8 497.3 479.6 502.0C504.4 506.7 523.9 524.0 546.0 502.0C568.1 480.0 552.7 458.0 546.0 436.0Z" fill="#0A8CC8"/></g></g><g transform="translate(284.50 390.70) scale(1.0267 1.0040)"><rect x="0" y="0" width="243.5" height="100.7" fill="none" stroke="#5a5a5a" stroke-width="0.85"/><path d="M49.4 0V-1.3" stroke="#333" stroke-width="0.6"/><text class="tk" x="49.4" y="-2.7" text-anchor="middle">30°11'40"E</text><path d="M99.6 0V-1.3" stroke="#333" stroke-width="0.6"/><text class="tk" x="99.6" y="-2.7" text-anchor="middle">30°11'50"E</text><path d="M150.0 0V-1.3" stroke="#333" stroke-width="0.6"/><text class="tk" x="150.0" y="-2.7" text-anchor="middle">30°12'0"E</text><path d="M200.6 0V-1.3" stroke="#333" stroke-width="0.6"/><text class="tk" x="200.6" y="-2.7" text-anchor="middle">30°12'10"E</text><path d="M47.0 100.7V99.4" stroke="#333" stroke-width="0.6"/><text class="tk" x="47.0" y="106.5" text-anchor="middle">30°11'40"E</text><path d="M97.0 100.7V99.4" stroke="#333" stroke-width="0.6"/><text class="tk" x="97.0" y="106.5" text-anchor="middle">30°11'50"E</text><path d="M147.0 100.7V99.4" stroke="#333" stroke-width="0.6"/><text class="tk" x="147.0" y="106.5" text-anchor="middle">30°12'0"E</text><path d="M197.6 100.7V99.4" stroke="#333" stroke-width="0.6"/><text class="tk" x="197.6" y="106.5" text-anchor="middle">30°12'10"E</text><path d="M0 40.2H1.3" stroke="#333" stroke-width="0.6"/><text class="tk" transform="translate(-3.5 40.2) rotate(-90)" text-anchor="middle">30°12'0"N</text><path d="M0 98.0H1.3" stroke="#333" stroke-width="0.6"/><text class="tk" transform="translate(-3.5 98.0) rotate(-90)" text-anchor="middle">30°11'50"N</text><path d="M243.5 46.2H242.2" stroke="#333" stroke-width="0.6"/><text class="tk" transform="translate(248.5 46.2) rotate(-90)" text-anchor="middle">30°12'0"N</text><path d="M4.5 0.7L9.5 13.2" stroke="#222" stroke-width="0.5" fill="none"/><path d="M4.5 0.7L1.5 13.2" stroke="#999" stroke-width="0.4" fill="none"/><path d="M1.5 13.6Q3.5 12.4 5.5 13.1T9.5 13.4" stroke="#111" stroke-width="1" fill="none"/><text x="5.5" y="18.9" text-anchor="middle" style="font:5.4px 'Liberation Sans',sans-serif;fill:#111;stroke:#111;stroke-width:.12px">N</text><rect x="77.6" y="98.4" width="79.4" height="2.2" fill="#fff" stroke="#777" stroke-width="0.3"/><rect x="77.60" y="98.4" width="4.75" height="2.2" fill="#111"/><rect x="87.10" y="98.4" width="4.75" height="2.2" fill="#111"/><rect x="96.60" y="98.4" width="19.00" height="2.2" fill="#111"/><rect x="134.60" y="98.4" width="19.00" height="2.2" fill="#111"/><text x="77.6" y="97.6" text-anchor="middle" style="font:2.2px 'Liberation Sans',sans-serif;fill:#444">0</text><text x="87.1" y="97.6" text-anchor="middle" style="font:2.2px 'Liberation Sans',sans-serif;fill:#444">0.05</text><text x="96.6" y="97.6" text-anchor="middle" style="font:2.2px 'Liberation Sans',sans-serif;fill:#444">0.1</text><text x="115.6" y="97.6" text-anchor="middle" style="font:2.2px 'Liberation Sans',sans-serif;fill:#444">0.2</text><text x="134.6" y="97.6" text-anchor="middle" style="font:2.2px 'Liberation Sans',sans-serif;fill:#444">0.3</text><text x="153.6" y="97.6" text-anchor="middle" style="font:2.2px 'Liberation Sans',sans-serif;fill:#444">0.4</text></g><text x="496.3" y="404.1" textLength="37.2" lengthAdjust="spacingAndGlyphs" style="font:bold 3.70px 'Liberation Sans',sans-serif;fill:#222" xml:space="preserve">EC   (Kriging, Third)</text><rect x="496.3" y="406.5" width="12.0" height="5.6" fill="#0A8CC8"/><text x="510.5" y="410.8" style="font:4.15px 'Liberation Sans',sans-serif;fill:#2a2a2a;stroke:#2a2a2a;stroke-width:.1px">0.23 – 0.53</text><rect x="496.3" y="414.6" width="12.0" height="5.6" fill="#3FA3B8"/><text x="510.5" y="418.9" style="font:4.15px 'Liberation Sans',sans-serif;fill:#2a2a2a;stroke:#2a2a2a;stroke-width:.1px">0.53 – 0.66</text><rect x="496.3" y="422.6" width="12.0" height="5.6" fill="#7DBBA0"/><text x="510.5" y="426.9" style="font:4.15px 'Liberation Sans',sans-serif;fill:#2a2a2a;stroke:#2a2a2a;stroke-width:.1px">0.66 – 0.72</text><rect x="496.3" y="430.7" width="12.0" height="5.6" fill="#AECF85"/><text x="510.5" y="435.0" style="font:4.15px 'Liberation Sans',sans-serif;fill:#2a2a2a;stroke:#2a2a2a;stroke-width:.1px">0.72 – 0.85</text><rect x="496.3" y="438.8" width="12.0" height="5.6" fill="#DEE763"/><text x="510.5" y="443.1" style="font:4.15px 'Liberation Sans',sans-serif;fill:#2a2a2a;stroke:#2a2a2a;stroke-width:.1px">0.85 – 1.1</text><rect x="496.3" y="446.9" width="12.0" height="5.6" fill="#FFE144"/><text x="510.5" y="451.2" style="font:4.15px 'Liberation Sans',sans-serif;fill:#2a2a2a;stroke:#2a2a2a;stroke-width:.1px">1.1 – 1.8</text><rect x="496.3" y="454.9" width="12.0" height="5.6" fill="#FFB033"/><text x="510.5" y="459.2" style="font:4.15px 'Liberation Sans',sans-serif;fill:#2a2a2a;stroke:#2a2a2a;stroke-width:.1px">1.8 – 3.4</text><rect x="496.3" y="463.0" width="12.0" height="5.6" fill="#FF8A26"/><text x="510.5" y="467.3" style="font:4.15px 'Liberation Sans',sans-serif;fill:#2a2a2a;stroke:#2a2a2a;stroke-width:.1px">3.4 – 6.8</text><rect x="496.3" y="471.1" width="12.0" height="5.6" fill="#FF571A"/><text x="510.5" y="475.4" style="font:4.15px 'Liberation Sans',sans-serif;fill:#2a2a2a;stroke:#2a2a2a;stroke-width:.1px">6.8 – 15</text><rect x="496.3" y="479.1" width="12.0" height="5.6" fill="#F80C0C"/><text x="510.5" y="483.4" style="font:4.15px 'Liberation Sans',sans-serif;fill:#2a2a2a;stroke:#2a2a2a;stroke-width:.1px">15 – 33</text></svg></body></html>
